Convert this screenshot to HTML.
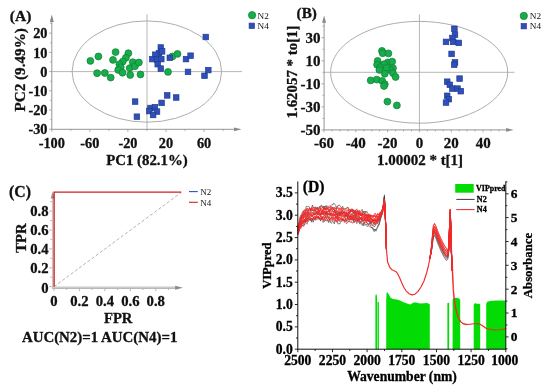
<!DOCTYPE html>
<html><head><meta charset="utf-8"><title>Figure</title>
<style>
html,body{margin:0;padding:0;background:#fff;}
svg{display:block;font-family:"Liberation Serif","DejaVu Serif",serif;}
</style></head><body>
<svg width="550" height="389" viewBox="0 0 550 389">
<rect width="550" height="389" fill="#fff"/>
<text x="9.8" y="21.3" font-size="15.5" font-weight="bold" text-anchor="start" fill="#111" stroke="#111" stroke-width="0.3">(A)</text>
<ellipse cx="146.85" cy="71.55" rx="74.75" ry="50.65" fill="none" stroke="#a4a4a4" stroke-width="0.9"/>
<line x1="51.8" y1="71.6" x2="242" y2="71.6" stroke="#a4a4a4" stroke-width="0.8"/>
<line x1="147" y1="14.3" x2="147" y2="129.3" stroke="#a4a4a4" stroke-width="0.8"/>
<line x1="51.8" y1="129.3" x2="51.8" y2="20.6" stroke="#959595" stroke-width="1.0"/>
<polygon points="49.8,22.0 53.8,22.0 51.8,14.6" fill="#888"/>
<line x1="51.8" y1="129.3" x2="235.5" y2="129.3" stroke="#959595" stroke-width="1.0"/>
<polygon points="234.0,127.4 234.0,131.20000000000002 241.5,129.3" fill="#888"/>
<line x1="49.199999999999996" y1="129.3" x2="51.8" y2="129.3" stroke="#959595" stroke-width="0.8"/>
<line x1="50.199999999999996" y1="119.7" x2="51.8" y2="119.7" stroke="#959595" stroke-width="0.8"/>
<line x1="49.199999999999996" y1="110.1" x2="51.8" y2="110.1" stroke="#959595" stroke-width="0.8"/>
<line x1="50.199999999999996" y1="100.4" x2="51.8" y2="100.4" stroke="#959595" stroke-width="0.8"/>
<line x1="49.199999999999996" y1="90.8" x2="51.8" y2="90.8" stroke="#959595" stroke-width="0.8"/>
<line x1="50.199999999999996" y1="81.2" x2="51.8" y2="81.2" stroke="#959595" stroke-width="0.8"/>
<line x1="49.199999999999996" y1="71.6" x2="51.8" y2="71.6" stroke="#959595" stroke-width="0.8"/>
<line x1="50.199999999999996" y1="62.0" x2="51.8" y2="62.0" stroke="#959595" stroke-width="0.8"/>
<line x1="49.199999999999996" y1="52.4" x2="51.8" y2="52.4" stroke="#959595" stroke-width="0.8"/>
<line x1="50.199999999999996" y1="42.8" x2="51.8" y2="42.8" stroke="#959595" stroke-width="0.8"/>
<line x1="49.199999999999996" y1="33.1" x2="51.8" y2="33.1" stroke="#959595" stroke-width="0.8"/>
<line x1="50.199999999999996" y1="23.5" x2="51.8" y2="23.5" stroke="#959595" stroke-width="0.8"/>
<text x="47.5" y="38.339999999999996" font-size="14.3" font-weight="bold" text-anchor="end" fill="#111" stroke="#111" stroke-width="0.3">20</text>
<text x="47.5" y="57.56999999999999" font-size="14.3" font-weight="bold" text-anchor="end" fill="#111" stroke="#111" stroke-width="0.3">10</text>
<text x="47.5" y="76.8" font-size="14.3" font-weight="bold" text-anchor="end" fill="#111" stroke="#111" stroke-width="0.3">0</text>
<text x="47.5" y="96.03" font-size="14.3" font-weight="bold" text-anchor="end" fill="#111" stroke="#111" stroke-width="0.3">-10</text>
<text x="47.5" y="115.26" font-size="14.3" font-weight="bold" text-anchor="end" fill="#111" stroke="#111" stroke-width="0.3">-20</text>
<text x="47.5" y="134.48999999999998" font-size="14.3" font-weight="bold" text-anchor="end" fill="#111" stroke="#111" stroke-width="0.3">-30</text>
<line x1="51.8" y1="129.3" x2="51.8" y2="131.9" stroke="#959595" stroke-width="0.8"/>
<line x1="70.8" y1="129.3" x2="70.8" y2="130.9" stroke="#959595" stroke-width="0.8"/>
<line x1="89.9" y1="129.3" x2="89.9" y2="131.9" stroke="#959595" stroke-width="0.8"/>
<line x1="108.9" y1="129.3" x2="108.9" y2="130.9" stroke="#959595" stroke-width="0.8"/>
<line x1="127.9" y1="129.3" x2="127.9" y2="131.9" stroke="#959595" stroke-width="0.8"/>
<line x1="146.9" y1="129.3" x2="146.9" y2="130.9" stroke="#959595" stroke-width="0.8"/>
<line x1="166.0" y1="129.3" x2="166.0" y2="131.9" stroke="#959595" stroke-width="0.8"/>
<line x1="185.0" y1="129.3" x2="185.0" y2="130.9" stroke="#959595" stroke-width="0.8"/>
<line x1="204.0" y1="129.3" x2="204.0" y2="131.9" stroke="#959595" stroke-width="0.8"/>
<line x1="223.1" y1="129.3" x2="223.1" y2="130.9" stroke="#959595" stroke-width="0.8"/>
<text x="51.79999999999998" y="147.60000000000002" font-size="14.3" font-weight="bold" text-anchor="middle" fill="#111" stroke="#111" stroke-width="0.3">-100</text>
<text x="89.85999999999999" y="147.60000000000002" font-size="14.3" font-weight="bold" text-anchor="middle" fill="#111" stroke="#111" stroke-width="0.3">-60</text>
<text x="127.91999999999999" y="147.60000000000002" font-size="14.3" font-weight="bold" text-anchor="middle" fill="#111" stroke="#111" stroke-width="0.3">-20</text>
<text x="165.98" y="147.60000000000002" font-size="14.3" font-weight="bold" text-anchor="middle" fill="#111" stroke="#111" stroke-width="0.3">20</text>
<text x="204.04" y="147.60000000000002" font-size="14.3" font-weight="bold" text-anchor="middle" fill="#111" stroke="#111" stroke-width="0.3">60</text>
<text x="146.95" y="165.2" font-size="14.85" font-weight="bold" text-anchor="middle" fill="#111" stroke="#111" stroke-width="0.3">PC1 (82.1%)</text>
<text x="25.2" y="69.85" font-size="15.2" font-weight="bold" text-anchor="middle" fill="#111" stroke="#111" stroke-width="0.3" transform="rotate(-90 25.2 69.85)">PC2 (9.49%)</text>
<circle cx="90.4" cy="60.9" r="3.45" fill="#17ad4b" stroke="#0d7d34" stroke-width="0.7"/>
<circle cx="98.4" cy="56.5" r="3.45" fill="#17ad4b" stroke="#0d7d34" stroke-width="0.7"/>
<circle cx="97.1" cy="73.2" r="3.45" fill="#17ad4b" stroke="#0d7d34" stroke-width="0.7"/>
<circle cx="104.8" cy="73.0" r="3.45" fill="#17ad4b" stroke="#0d7d34" stroke-width="0.7"/>
<circle cx="110.7" cy="77.6" r="3.45" fill="#17ad4b" stroke="#0d7d34" stroke-width="0.7"/>
<circle cx="113.0" cy="59.9" r="3.45" fill="#17ad4b" stroke="#0d7d34" stroke-width="0.7"/>
<circle cx="115.6" cy="52.1" r="3.45" fill="#17ad4b" stroke="#0d7d34" stroke-width="0.7"/>
<circle cx="128.4" cy="53.2" r="3.45" fill="#17ad4b" stroke="#0d7d34" stroke-width="0.7"/>
<circle cx="125.9" cy="57.8" r="3.45" fill="#17ad4b" stroke="#0d7d34" stroke-width="0.7"/>
<circle cx="122.8" cy="61.6" r="3.45" fill="#17ad4b" stroke="#0d7d34" stroke-width="0.7"/>
<circle cx="119.4" cy="64.2" r="3.45" fill="#17ad4b" stroke="#0d7d34" stroke-width="0.7"/>
<circle cx="120.7" cy="67.3" r="3.45" fill="#17ad4b" stroke="#0d7d34" stroke-width="0.7"/>
<circle cx="118.2" cy="69.9" r="3.45" fill="#17ad4b" stroke="#0d7d34" stroke-width="0.7"/>
<circle cx="122.5" cy="72.7" r="3.45" fill="#17ad4b" stroke="#0d7d34" stroke-width="0.7"/>
<circle cx="129.7" cy="68.1" r="3.45" fill="#17ad4b" stroke="#0d7d34" stroke-width="0.7"/>
<circle cx="132.8" cy="62.2" r="3.45" fill="#17ad4b" stroke="#0d7d34" stroke-width="0.7"/>
<circle cx="130.2" cy="75" r="3.45" fill="#17ad4b" stroke="#0d7d34" stroke-width="0.7"/>
<circle cx="134.9" cy="66.3" r="3.45" fill="#17ad4b" stroke="#0d7d34" stroke-width="0.7"/>
<circle cx="138.9" cy="62.5" r="3.45" fill="#17ad4b" stroke="#0d7d34" stroke-width="0.7"/>
<circle cx="140.5" cy="74.5" r="3.45" fill="#17ad4b" stroke="#0d7d34" stroke-width="0.7"/>
<circle cx="168" cy="71.9" r="3.45" fill="#17ad4b" stroke="#0d7d34" stroke-width="0.7"/>
<circle cx="172.4" cy="56.5" r="3.45" fill="#17ad4b" stroke="#0d7d34" stroke-width="0.7"/>
<circle cx="177.5" cy="53.9" r="3.45" fill="#17ad4b" stroke="#0d7d34" stroke-width="0.7"/>
<rect x="203.0" y="34.2" width="5.6" height="5.6" fill="#2d50ba" stroke="#21388c" stroke-width="0.65"/>
<rect x="158.0" y="44.7" width="5.6" height="5.6" fill="#2d50ba" stroke="#21388c" stroke-width="0.65"/>
<rect x="156.2" y="50.4" width="5.6" height="5.6" fill="#2d50ba" stroke="#21388c" stroke-width="0.65"/>
<rect x="152.4" y="51.9" width="5.6" height="5.6" fill="#2d50ba" stroke="#21388c" stroke-width="0.65"/>
<rect x="159.3" y="48.6" width="5.6" height="5.6" fill="#2d50ba" stroke="#21388c" stroke-width="0.65"/>
<rect x="149.5" y="56.3" width="5.6" height="5.6" fill="#2d50ba" stroke="#21388c" stroke-width="0.65"/>
<rect x="154.2" y="56.8" width="5.6" height="5.6" fill="#2d50ba" stroke="#21388c" stroke-width="0.65"/>
<rect x="158.5" y="56.3" width="5.6" height="5.6" fill="#2d50ba" stroke="#21388c" stroke-width="0.65"/>
<rect x="154.9" y="61.4" width="5.6" height="5.6" fill="#2d50ba" stroke="#21388c" stroke-width="0.65"/>
<rect x="158.0" y="65.8" width="5.6" height="5.6" fill="#2d50ba" stroke="#21388c" stroke-width="0.65"/>
<rect x="167.0" y="55.0" width="5.6" height="5.6" fill="#2d50ba" stroke="#21388c" stroke-width="0.65"/>
<rect x="183.2" y="56.3" width="5.6" height="5.6" fill="#2d50ba" stroke="#21388c" stroke-width="0.65"/>
<rect x="187.8" y="52.9" width="5.6" height="5.6" fill="#2d50ba" stroke="#21388c" stroke-width="0.65"/>
<rect x="185.2" y="69.1" width="5.6" height="5.6" fill="#2d50ba" stroke="#21388c" stroke-width="0.65"/>
<rect x="201.7" y="73.0" width="5.6" height="5.6" fill="#2d50ba" stroke="#21388c" stroke-width="0.65"/>
<rect x="205.5" y="67.3" width="5.6" height="5.6" fill="#2d50ba" stroke="#21388c" stroke-width="0.65"/>
<rect x="164.4" y="92.6" width="5.6" height="5.6" fill="#2d50ba" stroke="#21388c" stroke-width="0.65"/>
<rect x="173.4" y="94.7" width="5.6" height="5.6" fill="#2d50ba" stroke="#21388c" stroke-width="0.65"/>
<rect x="158.8" y="100.1" width="5.6" height="5.6" fill="#2d50ba" stroke="#21388c" stroke-width="0.65"/>
<rect x="132.3" y="98.8" width="5.6" height="5.6" fill="#2d50ba" stroke="#21388c" stroke-width="0.65"/>
<rect x="134.1" y="113.9" width="5.6" height="5.6" fill="#2d50ba" stroke="#21388c" stroke-width="0.65"/>
<rect x="147.7" y="105.2" width="5.6" height="5.6" fill="#2d50ba" stroke="#21388c" stroke-width="0.65"/>
<rect x="152.1" y="104.4" width="5.6" height="5.6" fill="#2d50ba" stroke="#21388c" stroke-width="0.65"/>
<rect x="146.5" y="108.3" width="5.6" height="5.6" fill="#2d50ba" stroke="#21388c" stroke-width="0.65"/>
<rect x="154.2" y="108.8" width="5.6" height="5.6" fill="#2d50ba" stroke="#21388c" stroke-width="0.65"/>
<rect x="150.3" y="112.2" width="5.6" height="5.6" fill="#2d50ba" stroke="#21388c" stroke-width="0.65"/>
<circle cx="252.1" cy="15.2" r="3.65" fill="#17ad4b" stroke="#0d7d34" stroke-width="0.7"/>
<rect x="249.1" y="23.1" width="5.4" height="5.4" fill="#2d50ba" stroke="#21388c" stroke-width="0.65"/>
<text x="257.5" y="18.6" font-size="9.2" font-weight="normal" text-anchor="start" fill="#111">N2</text>
<text x="257.5" y="28.9" font-size="9.2" font-weight="normal" text-anchor="start" fill="#111">N4</text>
<text x="296.6" y="18.0" font-size="15.2" font-weight="bold" text-anchor="start" fill="#111" stroke="#111" stroke-width="0.3">(B)</text>
<ellipse cx="419.15" cy="72.3" rx="88.55" ry="50.9" fill="none" stroke="#a4a4a4" stroke-width="0.9"/>
<line x1="324.1" y1="72.3" x2="514.5" y2="72.3" stroke="#a4a4a4" stroke-width="0.8"/>
<line x1="419.45" y1="14.5" x2="419.45" y2="129.9" stroke="#a4a4a4" stroke-width="0.8"/>
<line x1="324.1" y1="129.9" x2="324.1" y2="21.4" stroke="#959595" stroke-width="1.0"/>
<polygon points="322.1,22.8 326.1,22.8 324.1,15.4" fill="#888"/>
<line x1="324.1" y1="129.9" x2="507.6" y2="129.9" stroke="#959595" stroke-width="1.0"/>
<polygon points="506.1,128.0 506.1,131.8 513.6,129.9" fill="#888"/>
<line x1="321.5" y1="129.9" x2="324.1" y2="129.9" stroke="#959595" stroke-width="0.8"/>
<line x1="322.5" y1="118.4" x2="324.1" y2="118.4" stroke="#959595" stroke-width="0.8"/>
<line x1="321.5" y1="106.9" x2="324.1" y2="106.9" stroke="#959595" stroke-width="0.8"/>
<line x1="322.5" y1="95.3" x2="324.1" y2="95.3" stroke="#959595" stroke-width="0.8"/>
<line x1="321.5" y1="83.8" x2="324.1" y2="83.8" stroke="#959595" stroke-width="0.8"/>
<line x1="322.5" y1="72.3" x2="324.1" y2="72.3" stroke="#959595" stroke-width="0.8"/>
<line x1="321.5" y1="60.8" x2="324.1" y2="60.8" stroke="#959595" stroke-width="0.8"/>
<line x1="322.5" y1="49.3" x2="324.1" y2="49.3" stroke="#959595" stroke-width="0.8"/>
<line x1="321.5" y1="37.7" x2="324.1" y2="37.7" stroke="#959595" stroke-width="0.8"/>
<line x1="322.5" y1="26.2" x2="324.1" y2="26.2" stroke="#959595" stroke-width="0.8"/>
<text x="320.40000000000003" y="43.14" font-size="15" font-weight="bold" text-anchor="end" fill="#111" stroke="#111" stroke-width="0.3">30</text>
<text x="320.40000000000003" y="66.18" font-size="15" font-weight="bold" text-anchor="end" fill="#111" stroke="#111" stroke-width="0.3">10</text>
<text x="320.40000000000003" y="89.22" font-size="15" font-weight="bold" text-anchor="end" fill="#111" stroke="#111" stroke-width="0.3">-10</text>
<text x="320.40000000000003" y="112.25999999999999" font-size="15" font-weight="bold" text-anchor="end" fill="#111" stroke="#111" stroke-width="0.3">-30</text>
<text x="320.40000000000003" y="135.29999999999998" font-size="15" font-weight="bold" text-anchor="end" fill="#111" stroke="#111" stroke-width="0.3">-50</text>
<line x1="323.9" y1="129.9" x2="323.9" y2="132.3" stroke="#959595" stroke-width="0.8"/>
<line x1="331.9" y1="129.9" x2="331.9" y2="131.4" stroke="#959595" stroke-width="0.8"/>
<line x1="339.8" y1="129.9" x2="339.8" y2="131.4" stroke="#959595" stroke-width="0.8"/>
<line x1="347.8" y1="129.9" x2="347.8" y2="131.4" stroke="#959595" stroke-width="0.8"/>
<line x1="355.8" y1="129.9" x2="355.8" y2="132.3" stroke="#959595" stroke-width="0.8"/>
<line x1="363.7" y1="129.9" x2="363.7" y2="131.4" stroke="#959595" stroke-width="0.8"/>
<line x1="371.7" y1="129.9" x2="371.7" y2="131.4" stroke="#959595" stroke-width="0.8"/>
<line x1="379.6" y1="129.9" x2="379.6" y2="131.4" stroke="#959595" stroke-width="0.8"/>
<line x1="387.6" y1="129.9" x2="387.6" y2="132.3" stroke="#959595" stroke-width="0.8"/>
<line x1="395.6" y1="129.9" x2="395.6" y2="131.4" stroke="#959595" stroke-width="0.8"/>
<line x1="403.5" y1="129.9" x2="403.5" y2="131.4" stroke="#959595" stroke-width="0.8"/>
<line x1="411.5" y1="129.9" x2="411.5" y2="131.4" stroke="#959595" stroke-width="0.8"/>
<line x1="419.4" y1="129.9" x2="419.4" y2="132.3" stroke="#959595" stroke-width="0.8"/>
<line x1="427.4" y1="129.9" x2="427.4" y2="131.4" stroke="#959595" stroke-width="0.8"/>
<line x1="435.4" y1="129.9" x2="435.4" y2="131.4" stroke="#959595" stroke-width="0.8"/>
<line x1="443.3" y1="129.9" x2="443.3" y2="131.4" stroke="#959595" stroke-width="0.8"/>
<line x1="451.3" y1="129.9" x2="451.3" y2="132.3" stroke="#959595" stroke-width="0.8"/>
<line x1="459.3" y1="129.9" x2="459.3" y2="131.4" stroke="#959595" stroke-width="0.8"/>
<line x1="467.2" y1="129.9" x2="467.2" y2="131.4" stroke="#959595" stroke-width="0.8"/>
<line x1="475.2" y1="129.9" x2="475.2" y2="131.4" stroke="#959595" stroke-width="0.8"/>
<line x1="483.1" y1="129.9" x2="483.1" y2="132.3" stroke="#959595" stroke-width="0.8"/>
<line x1="491.1" y1="129.9" x2="491.1" y2="131.4" stroke="#959595" stroke-width="0.8"/>
<line x1="499.1" y1="129.9" x2="499.1" y2="131.4" stroke="#959595" stroke-width="0.8"/>
<line x1="507.0" y1="129.9" x2="507.0" y2="131.4" stroke="#959595" stroke-width="0.8"/>
<text x="323.9" y="148.1" font-size="15" font-weight="bold" text-anchor="middle" fill="#111" stroke="#111" stroke-width="0.3">-60</text>
<text x="355.75" y="148.1" font-size="15" font-weight="bold" text-anchor="middle" fill="#111" stroke="#111" stroke-width="0.3">-40</text>
<text x="387.59999999999997" y="148.1" font-size="15" font-weight="bold" text-anchor="middle" fill="#111" stroke="#111" stroke-width="0.3">-20</text>
<text x="419.45" y="148.1" font-size="15" font-weight="bold" text-anchor="middle" fill="#111" stroke="#111" stroke-width="0.3">0</text>
<text x="451.3" y="148.1" font-size="15" font-weight="bold" text-anchor="middle" fill="#111" stroke="#111" stroke-width="0.3">20</text>
<text x="483.15" y="148.1" font-size="15" font-weight="bold" text-anchor="middle" fill="#111" stroke="#111" stroke-width="0.3">40</text>
<text x="420" y="165.3" font-size="15" font-weight="bold" text-anchor="middle" fill="#111" stroke="#111" stroke-width="0.3">1.00002 * t[1]</text>
<text x="296.8" y="72" font-size="14.9" font-weight="bold" text-anchor="middle" fill="#111" stroke="#111" stroke-width="0.3" transform="rotate(-90 296.8 72)">1.62057 * to[1]</text>
<circle cx="382" cy="50.9" r="3.45" fill="#17ad4b" stroke="#0d7d34" stroke-width="0.7"/>
<circle cx="382.7" cy="53.2" r="3.45" fill="#17ad4b" stroke="#0d7d34" stroke-width="0.7"/>
<circle cx="388.4" cy="53.4" r="3.45" fill="#17ad4b" stroke="#0d7d34" stroke-width="0.7"/>
<circle cx="377.6" cy="60.9" r="3.45" fill="#17ad4b" stroke="#0d7d34" stroke-width="0.7"/>
<circle cx="377.1" cy="64.7" r="3.45" fill="#17ad4b" stroke="#0d7d34" stroke-width="0.7"/>
<circle cx="387.9" cy="62.4" r="3.45" fill="#17ad4b" stroke="#0d7d34" stroke-width="0.7"/>
<circle cx="392.2" cy="61.6" r="3.45" fill="#17ad4b" stroke="#0d7d34" stroke-width="0.7"/>
<circle cx="384" cy="64.2" r="3.45" fill="#17ad4b" stroke="#0d7d34" stroke-width="0.7"/>
<circle cx="380.2" cy="67.3" r="3.45" fill="#17ad4b" stroke="#0d7d34" stroke-width="0.7"/>
<circle cx="393" cy="68.1" r="3.45" fill="#17ad4b" stroke="#0d7d34" stroke-width="0.7"/>
<circle cx="390.4" cy="69.9" r="3.45" fill="#17ad4b" stroke="#0d7d34" stroke-width="0.7"/>
<circle cx="379.4" cy="69.9" r="3.45" fill="#17ad4b" stroke="#0d7d34" stroke-width="0.7"/>
<circle cx="386.6" cy="68" r="3.45" fill="#17ad4b" stroke="#0d7d34" stroke-width="0.7"/>
<circle cx="384.8" cy="73.7" r="3.45" fill="#17ad4b" stroke="#0d7d34" stroke-width="0.7"/>
<circle cx="393" cy="73.2" r="3.45" fill="#17ad4b" stroke="#0d7d34" stroke-width="0.7"/>
<circle cx="395.6" cy="77" r="3.45" fill="#17ad4b" stroke="#0d7d34" stroke-width="0.7"/>
<circle cx="370.7" cy="80.4" r="3.45" fill="#17ad4b" stroke="#0d7d34" stroke-width="0.7"/>
<circle cx="376.8" cy="79.6" r="3.45" fill="#17ad4b" stroke="#0d7d34" stroke-width="0.7"/>
<circle cx="382.2" cy="80.9" r="3.45" fill="#17ad4b" stroke="#0d7d34" stroke-width="0.7"/>
<circle cx="384.8" cy="84.2" r="3.45" fill="#17ad4b" stroke="#0d7d34" stroke-width="0.7"/>
<circle cx="384" cy="86" r="3.45" fill="#17ad4b" stroke="#0d7d34" stroke-width="0.7"/>
<circle cx="387.4" cy="101.6" r="3.45" fill="#17ad4b" stroke="#0d7d34" stroke-width="0.7"/>
<circle cx="396.9" cy="105.4" r="3.45" fill="#17ad4b" stroke="#0d7d34" stroke-width="0.7"/>
<rect x="451.6" y="26.0" width="5.6" height="5.6" fill="#2d50ba" stroke="#21388c" stroke-width="0.65"/>
<rect x="452.2" y="31.9" width="5.6" height="5.6" fill="#2d50ba" stroke="#21388c" stroke-width="0.65"/>
<rect x="449.6" y="35.2" width="5.6" height="5.6" fill="#2d50ba" stroke="#21388c" stroke-width="0.65"/>
<rect x="443.2" y="39.1" width="5.6" height="5.6" fill="#2d50ba" stroke="#21388c" stroke-width="0.65"/>
<rect x="450.4" y="39.1" width="5.6" height="5.6" fill="#2d50ba" stroke="#21388c" stroke-width="0.65"/>
<rect x="456.0" y="40.1" width="5.6" height="5.6" fill="#2d50ba" stroke="#21388c" stroke-width="0.65"/>
<rect x="448.8" y="51.1" width="5.6" height="5.6" fill="#2d50ba" stroke="#21388c" stroke-width="0.65"/>
<rect x="452.2" y="59.6" width="5.6" height="5.6" fill="#2d50ba" stroke="#21388c" stroke-width="0.65"/>
<rect x="451.4" y="61.9" width="5.6" height="5.6" fill="#2d50ba" stroke="#21388c" stroke-width="0.65"/>
<rect x="456.8" y="75.8" width="5.6" height="5.6" fill="#2d50ba" stroke="#21388c" stroke-width="0.65"/>
<rect x="444.4" y="78.9" width="5.6" height="5.6" fill="#2d50ba" stroke="#21388c" stroke-width="0.65"/>
<rect x="447.0" y="82.0" width="5.6" height="5.6" fill="#2d50ba" stroke="#21388c" stroke-width="0.65"/>
<rect x="449.6" y="85.8" width="5.6" height="5.6" fill="#2d50ba" stroke="#21388c" stroke-width="0.65"/>
<rect x="454.7" y="85.8" width="5.6" height="5.6" fill="#2d50ba" stroke="#21388c" stroke-width="0.65"/>
<rect x="458.0" y="88.4" width="5.6" height="5.6" fill="#2d50ba" stroke="#21388c" stroke-width="0.65"/>
<rect x="444.4" y="93.0" width="5.6" height="5.6" fill="#2d50ba" stroke="#21388c" stroke-width="0.65"/>
<rect x="446.0" y="96.4" width="5.6" height="5.6" fill="#2d50ba" stroke="#21388c" stroke-width="0.65"/>
<rect x="443.2" y="99.8" width="5.6" height="5.6" fill="#2d50ba" stroke="#21388c" stroke-width="0.65"/>
<circle cx="523.8" cy="15.9" r="3.65" fill="#17ad4b" stroke="#0d7d34" stroke-width="0.7"/>
<rect x="521.1" y="23.5" width="5.4" height="5.4" fill="#2d50ba" stroke="#21388c" stroke-width="0.65"/>
<text x="529.8" y="19.1" font-size="9.2" font-weight="normal" text-anchor="start" fill="#111">N2</text>
<text x="529.8" y="29.4" font-size="9.2" font-weight="normal" text-anchor="start" fill="#111">N4</text>
<text x="9.0" y="196.5" font-size="15.8" font-weight="bold" text-anchor="start" fill="#111" stroke="#111" stroke-width="0.3">(C)</text>
<line x1="52.7" y1="288.5" x2="52.7" y2="197" stroke="#c3c7cb" stroke-width="1.5"/>
<polygon points="50.7,198.6 54.7,198.6 52.7,191.4" fill="#8e8e8e"/>
<line x1="52" y1="287.65" x2="176" y2="287.65" stroke="#c9c9c9" stroke-width="2.5"/>
<line x1="52" y1="288.5" x2="176" y2="288.5" stroke="#b4b4b4" stroke-width="0.8"/>
<polygon points="175.2,285.8 175.2,289.8 183,287.8" fill="#8a8a8a"/>
<line x1="49.2" y1="286.7" x2="52" y2="286.7" stroke="#a5a5a5" stroke-width="0.8"/>
<line x1="54.0" y1="288.8" x2="54.0" y2="291.2" stroke="#a5a5a5" stroke-width="0.8"/>
<line x1="50.4" y1="277.2" x2="52" y2="277.2" stroke="#a5a5a5" stroke-width="0.8"/>
<line x1="66.7" y1="288.8" x2="66.7" y2="290.0" stroke="#a5a5a5" stroke-width="0.8"/>
<line x1="49.2" y1="267.8" x2="52" y2="267.8" stroke="#a5a5a5" stroke-width="0.8"/>
<line x1="79.4" y1="288.8" x2="79.4" y2="291.2" stroke="#a5a5a5" stroke-width="0.8"/>
<line x1="50.4" y1="258.3" x2="52" y2="258.3" stroke="#a5a5a5" stroke-width="0.8"/>
<line x1="92.2" y1="288.8" x2="92.2" y2="290.0" stroke="#a5a5a5" stroke-width="0.8"/>
<line x1="49.2" y1="248.9" x2="52" y2="248.9" stroke="#a5a5a5" stroke-width="0.8"/>
<line x1="104.9" y1="288.8" x2="104.9" y2="291.2" stroke="#a5a5a5" stroke-width="0.8"/>
<line x1="50.4" y1="239.4" x2="52" y2="239.4" stroke="#a5a5a5" stroke-width="0.8"/>
<line x1="117.6" y1="288.8" x2="117.6" y2="290.0" stroke="#a5a5a5" stroke-width="0.8"/>
<line x1="49.2" y1="230.0" x2="52" y2="230.0" stroke="#a5a5a5" stroke-width="0.8"/>
<line x1="130.3" y1="288.8" x2="130.3" y2="291.2" stroke="#a5a5a5" stroke-width="0.8"/>
<line x1="50.4" y1="220.5" x2="52" y2="220.5" stroke="#a5a5a5" stroke-width="0.8"/>
<line x1="143.0" y1="288.8" x2="143.0" y2="290.0" stroke="#a5a5a5" stroke-width="0.8"/>
<line x1="49.2" y1="211.1" x2="52" y2="211.1" stroke="#a5a5a5" stroke-width="0.8"/>
<line x1="155.8" y1="288.8" x2="155.8" y2="291.2" stroke="#a5a5a5" stroke-width="0.8"/>
<line x1="50.4" y1="201.6" x2="52" y2="201.6" stroke="#a5a5a5" stroke-width="0.8"/>
<line x1="168.5" y1="288.8" x2="168.5" y2="290.0" stroke="#a5a5a5" stroke-width="0.8"/>
<text x="48.6" y="216.46" font-size="14.7" font-weight="bold" text-anchor="end" fill="#111" stroke="#111" stroke-width="0.3">0.8</text>
<text x="155.76" y="306.1" font-size="14.7" font-weight="bold" text-anchor="middle" fill="#111" stroke="#111" stroke-width="0.3">0.8</text>
<text x="48.6" y="235.37" font-size="14.7" font-weight="bold" text-anchor="end" fill="#111" stroke="#111" stroke-width="0.3">0.6</text>
<text x="130.32" y="306.1" font-size="14.7" font-weight="bold" text-anchor="middle" fill="#111" stroke="#111" stroke-width="0.3">0.6</text>
<text x="48.6" y="254.28" font-size="14.7" font-weight="bold" text-anchor="end" fill="#111" stroke="#111" stroke-width="0.3">0.4</text>
<text x="104.88" y="306.1" font-size="14.7" font-weight="bold" text-anchor="middle" fill="#111" stroke="#111" stroke-width="0.3">0.4</text>
<text x="48.6" y="273.18999999999994" font-size="14.7" font-weight="bold" text-anchor="end" fill="#111" stroke="#111" stroke-width="0.3">0.2</text>
<text x="79.44" y="306.1" font-size="14.7" font-weight="bold" text-anchor="middle" fill="#111" stroke="#111" stroke-width="0.3">0.2</text>
<text x="48.6" y="292.8" font-size="14.7" font-weight="bold" text-anchor="end" fill="#111" stroke="#111" stroke-width="0.3">0</text>
<text x="54.0" y="306.1" font-size="14.7" font-weight="bold" text-anchor="middle" fill="#111" stroke="#111" stroke-width="0.3">0</text>
<line x1="54" y1="286.7" x2="181.5" y2="192.3" stroke="#aaa" stroke-width="0.9" stroke-dasharray="3.2 2"/>
<polyline points="54.1,286.8 54.1,192.1 181.2,192.1" fill="none" stroke="#d41e1e" stroke-width="1.35"/>
<line x1="189" y1="191.6" x2="197.8" y2="191.6" stroke="#3050c0" stroke-width="1.1"/>
<line x1="189" y1="202.3" x2="197.8" y2="202.3" stroke="#d62020" stroke-width="1.1"/>
<text x="200.3" y="194.9" font-size="9" font-weight="normal" text-anchor="start" fill="#111">N2</text>
<text x="200.3" y="205.6" font-size="9" font-weight="normal" text-anchor="start" fill="#111">N4</text>
<text x="118.2" y="323.4" font-size="14.7" font-weight="bold" text-anchor="middle" fill="#111" stroke="#111" stroke-width="0.3">FPR</text>
<text x="21.9" y="341.8" font-size="14.9" font-weight="bold" text-anchor="start" fill="#111" stroke="#111" stroke-width="0.3">AUC(N2)=1 AUC(N4)=1</text>
<text x="26.3" y="238" font-size="14.7" font-weight="bold" text-anchor="middle" fill="#111" stroke="#111" stroke-width="0.3" transform="rotate(-90 26.3 238)">TPR</text>
<path d="M375.4,349.2 L375.4,296.0 L375.9,294.2 L376.6,294.6 L377.0,297.0 L377.0,349.2 Z" fill="#02dc04"/>
<path d="M377.5,349.2 L377.5,302.5 L378.2,301.4 L378.9,302.5 L378.9,349.2 Z" fill="#02dc04"/>
<path d="M386.2,349.2 L386.2,300.0 L386.6,293.0 L387.5,292.2 L388.6,294.0 L390.6,297.8 L393.0,299.0 L397.0,299.6 L400.0,300.6 L403.0,302.0 L407.0,303.5 L410.0,304.4 L412.0,303.6 L413.5,302.4 L416.0,302.6 L420.0,303.4 L424.0,303.2 L426.5,303.0 L428.5,303.6 L429.8,304.6 L429.8,349.2 Z" fill="#02dc04"/>
<path d="M447.4,349.2 L447.4,303.2 L448.2,302.4 L449.1,303.2 L449.1,349.2 Z" fill="#02dc04"/>
<path d="M452.6,349.2 L452.6,300.0 L453.2,298.2 L456.0,297.8 L459.3,298.4 L460.2,300.0 L460.2,349.2 Z" fill="#02dc04"/>
<path d="M473.7,349.2 L473.7,305.0 L474.5,303.6 L476.0,303.2 L477.5,304.0 L479.0,303.4 L480.2,304.6 L480.2,349.2 Z" fill="#02dc04"/>
<path d="M486.2,349.2 L486.2,304.0 L487.2,301.8 L490.0,301.0 L496.0,300.6 L502.0,300.4 L505.8,300.6 L505.8,349.2 Z" fill="#02dc04"/>
<path d="M298.0,228.1 L298.6,224.1 L299.3,219.8 L300.1,216.6 L300.9,215.2 L301.6,216.9 L302.5,214.9 L303.1,212.0 L303.8,210.5 L304.8,210.0 L305.7,208.9 L306.3,206.2 L307.3,206.6 L308.2,206.5 L309.2,206.7 L310.1,209.3 L311.0,209.1 L311.7,207.9 L312.4,205.0 L313.3,208.0 L314.3,208.0 L315.2,207.2 L316.3,208.4 L317.2,208.1 L318.1,209.8 L318.9,208.6 L319.5,206.3 L320.1,207.7 L320.8,205.7 L321.8,205.2 L322.7,208.1 L323.7,206.0 L324.5,209.5 L325.2,205.7 L325.9,207.3 L326.6,205.6 L327.4,208.3 L328.4,207.2 L329.3,207.5 L330.3,208.4 L331.1,205.4 L332.0,204.4 L332.7,205.0 L333.3,203.5 L334.0,203.2 L335.0,204.5 L335.7,205.5 L336.4,209.4 L337.2,205.8 L337.9,206.3 L338.9,204.8 L340.0,205.8 L340.9,206.5 L341.9,208.6 L342.7,206.3 L343.7,209.3 L344.4,208.9 L345.5,210.1 L346.5,208.4 L347.4,207.2 L348.0,207.7 L348.9,209.8 L350.0,213.1 L350.8,209.2 L351.5,210.2 L352.5,210.6 L353.5,209.7 L354.4,213.5 L355.4,210.7 L356.4,213.0 L357.5,211.2 L358.5,210.8 L359.2,213.2 L360.2,212.4 L361.3,211.1 L362.2,209.3 L363.2,212.2 L364.3,213.8 L365.3,211.1 L366.1,212.5 L366.8,211.3 L367.9,213.5 L368.8,214.8 L369.8,216.0 L370.7,215.2 L371.4,216.4 L372.0,216.6 L372.9,216.0 L373.8,215.2 L374.7,215.8 L375.7,216.8 L376.7,216.6 L377.6,216.7 L378.5,216.5 L379.3,217.0 L380.4,213.8 L381.3,214.9 L381.9,211.8 L382.6,207.5 L383.5,207.2 L384.2,200.3 L384.4,194.8 L385.3,215.0 L386.5,250.0" fill="none" stroke="#3a3a3a" stroke-width="0.6" stroke-linejoin="round" stroke-linecap="round"/>
<path d="M430.0,258.0 L431.5,249.0 L432.5,239.6 L433.4,232.2 L434.5,230.2 L436.0,233.2 L438.0,238.7 L441.0,245.7 L444.0,251.7 L446.5,255.2 L447.8,255.5 L448.8,248.9 L449.6,225.0 L450.2,211.3 L450.8,225.0 L451.3,250.0 L452.3,270.6" fill="none" stroke="#3a3a3a" stroke-width="0.432" stroke-linejoin="round" stroke-linecap="round"/>
<path d="M298.0,228.5 L299.1,224.8 L300.2,220.4 L301.0,219.0 L301.7,218.4 L302.3,216.0 L302.9,215.6 L303.8,215.2 L304.8,211.9 L305.5,212.9 L306.2,210.1 L307.3,210.2 L308.0,212.4 L308.9,208.8 L309.8,208.5 L310.9,211.7 L311.6,209.3 L312.6,210.1 L313.5,210.7 L314.1,210.3 L314.8,208.5 L315.5,209.0 L316.5,209.3 L317.2,207.0 L317.9,209.0 L318.8,207.5 L319.8,208.4 L320.6,209.0 L321.4,208.8 L322.5,209.4 L323.5,208.4 L324.3,206.4 L324.9,207.9 L325.6,209.6 L326.6,208.1 L327.3,208.6 L328.0,207.9 L329.1,210.5 L329.8,210.6 L330.6,209.6 L331.4,208.9 L332.3,208.0 L332.9,207.1 L333.5,207.7 L334.4,210.3 L335.4,211.6 L336.1,211.8 L336.8,211.2 L337.4,213.1 L338.4,213.3 L339.0,211.9 L340.0,213.9 L340.9,214.1 L341.9,210.4 L342.6,210.2 L343.6,212.5 L344.5,212.4 L345.1,214.1 L345.9,213.6 L346.6,212.3 L347.2,213.5 L347.9,215.0 L348.8,212.5 L349.7,213.7 L350.6,210.6 L351.3,212.0 L352.2,209.8 L353.0,213.1 L353.9,212.1 L354.7,210.6 L355.8,213.9 L356.8,211.1 L357.9,212.6 L358.6,214.4 L359.3,211.5 L360.2,212.7 L361.2,216.0 L362.1,215.6 L363.0,211.2 L363.8,212.8 L364.5,212.9 L365.5,214.3 L366.5,215.3 L367.5,214.6 L368.3,218.3 L369.2,216.6 L369.9,215.2 L370.9,219.2 L371.6,217.7 L372.3,220.0 L373.4,219.8 L374.4,220.6 L375.4,220.4 L376.2,220.0 L377.0,220.1 L377.6,217.5 L378.4,220.2 L379.1,217.0 L380.0,214.7 L380.7,216.4 L381.5,214.6 L382.6,207.8 L383.3,205.6 L384.0,200.6 L384.4,197.0 L385.3,215.0 L386.5,250.0" fill="none" stroke="#3a3a3a" stroke-width="0.6" stroke-linejoin="round" stroke-linecap="round"/>
<path d="M430.0,258.0 L431.5,249.1 L432.5,239.9 L433.4,232.6 L434.5,230.6 L436.0,233.6 L438.0,239.1 L441.0,246.1 L444.0,252.1 L446.5,255.6 L447.8,255.8 L448.8,249.0 L449.6,225.0 L450.2,211.9 L450.8,225.0 L451.3,250.0 L452.3,270.6" fill="none" stroke="#3a3a3a" stroke-width="0.432" stroke-linejoin="round" stroke-linecap="round"/>
<path d="M298.0,230.3 L298.8,226.9 L299.6,222.7 L300.7,220.5 L301.6,218.0 L302.3,216.9 L303.1,219.1 L304.2,213.5 L305.1,215.6 L306.0,213.2 L307.1,215.8 L308.2,211.7 L308.8,214.1 L309.9,214.2 L310.9,213.4 L311.5,212.5 L312.6,212.9 L313.2,213.5 L314.2,210.1 L315.1,211.7 L315.8,210.4 L316.5,214.3 L317.4,213.2 L318.2,214.4 L319.1,210.0 L320.0,212.1 L320.7,214.7 L321.4,211.0 L322.2,211.0 L323.2,213.0 L323.9,213.2 L324.9,212.0 L325.9,214.5 L326.7,210.7 L327.6,214.3 L328.2,211.1 L329.3,209.7 L329.9,213.2 L331.0,214.5 L332.1,210.8 L333.1,210.9 L334.1,212.1 L334.8,209.8 L335.6,213.7 L336.2,212.0 L337.0,215.4 L337.8,212.8 L338.6,212.8 L339.4,213.0 L340.2,216.6 L340.8,212.3 L341.9,214.6 L342.9,212.3 L344.0,212.8 L345.0,212.5 L345.6,216.0 L346.5,213.3 L347.2,217.1 L348.3,213.8 L349.1,216.6 L349.8,216.5 L350.8,216.5 L351.6,214.9 L352.5,213.2 L353.5,212.3 L354.1,213.7 L355.2,217.6 L356.0,213.0 L356.8,215.1 L357.5,215.8 L358.5,217.5 L359.4,216.8 L360.1,215.1 L361.1,214.2 L361.8,216.5 L362.7,214.5 L363.8,214.3 L364.8,218.1 L365.5,217.6 L366.5,215.8 L367.2,216.5 L368.3,221.0 L369.1,220.3 L369.8,223.4 L370.5,222.6 L371.2,220.7 L371.9,222.5 L372.8,219.9 L373.6,221.3 L374.4,223.6 L375.2,220.0 L376.0,222.0 L376.7,221.4 L377.5,219.2 L378.6,219.4 L379.3,219.8 L380.4,214.7 L381.4,211.8 L382.4,211.8 L383.2,206.7 L383.9,202.2 L384.4,197.0 L385.3,215.0 L386.5,250.0" fill="none" stroke="#3a3a3a" stroke-width="0.6" stroke-linejoin="round" stroke-linecap="round"/>
<path d="M430.0,258.0 L431.5,250.2 L432.5,241.7 L433.4,235.0 L434.5,233.0 L436.0,236.0 L438.0,241.5 L441.0,248.5 L444.0,254.5 L446.5,258.0 L447.8,257.4 L448.8,250.0 L449.6,225.0 L450.2,215.5 L450.8,225.0 L451.3,250.0 L452.3,270.6" fill="none" stroke="#3a3a3a" stroke-width="0.432" stroke-linejoin="round" stroke-linecap="round"/>
<path d="M298.0,231.7 L298.8,226.7 L299.5,227.2 L300.2,225.3 L301.3,219.7 L302.3,220.5 L303.0,220.6 L304.0,221.6 L304.7,218.9 L305.5,221.2 L306.2,217.8 L307.0,215.9 L307.8,219.3 L308.4,218.5 L309.0,216.3 L309.9,217.9 L310.7,217.1 L311.5,216.5 L312.3,215.6 L313.1,215.6 L314.1,213.1 L315.0,212.1 L315.8,212.6 L316.6,212.7 L317.3,214.4 L318.1,212.4 L318.9,212.4 L320.0,216.2 L321.0,216.5 L321.8,217.4 L322.5,218.1 L323.1,216.8 L323.8,215.6 L324.8,215.5 L325.9,213.8 L326.7,212.5 L327.4,215.6 L328.4,213.6 L329.3,214.3 L330.3,215.6 L331.1,216.1 L331.8,216.4 L332.6,215.5 L333.7,216.0 L334.7,214.9 L335.6,216.5 L336.4,217.6 L337.3,215.3 L337.9,213.5 L338.8,215.1 L339.8,213.3 L340.7,211.6 L341.5,212.6 L342.2,214.4 L342.9,214.7 L343.6,215.1 L344.3,215.9 L345.3,215.9 L346.0,215.8 L346.9,215.8 L347.7,217.6 L348.5,215.8 L349.3,216.3 L350.0,216.0 L350.8,217.4 L351.5,218.9 L352.5,218.0 L353.2,216.6 L354.3,219.9 L354.9,220.5 L355.7,219.5 L356.4,217.4 L357.0,219.1 L358.0,219.7 L358.7,218.5 L359.7,217.8 L360.6,218.5 L361.7,217.5 L362.4,220.9 L363.4,220.2 L364.1,219.9 L365.0,219.4 L366.1,220.4 L367.1,220.4 L368.0,221.0 L368.7,220.9 L369.8,221.0 L370.5,223.7 L371.1,222.0 L372.1,225.6 L373.0,224.9 L373.8,226.8 L374.9,226.5 L375.9,223.5 L376.6,222.0 L377.6,224.0 L378.7,221.4 L379.3,221.6 L380.0,218.4 L380.6,216.1 L381.6,213.8 L382.7,211.4 L383.6,204.9 L384.4,197.1 L385.3,215.0 L386.5,250.0" fill="none" stroke="#3a3a3a" stroke-width="0.6" stroke-linejoin="round" stroke-linecap="round"/>
<path d="M430.0,258.0 L431.5,250.4 L432.5,242.0 L433.4,235.4 L434.5,233.4 L436.0,236.4 L438.0,241.9 L441.0,248.9 L444.0,254.9 L446.5,258.4 L447.8,257.7 L448.8,250.2 L449.6,225.0 L450.2,216.1 L450.8,225.0 L451.3,250.0 L452.3,270.6" fill="none" stroke="#3a3a3a" stroke-width="0.432" stroke-linejoin="round" stroke-linecap="round"/>
<path d="M298.0,233.6 L298.9,230.7 L299.5,226.0 L300.1,226.9 L301.2,222.9 L302.0,220.9 L302.9,222.8 L303.6,221.1 L304.3,221.8 L305.0,219.7 L306.0,222.0 L306.9,219.6 L307.7,218.8 L308.7,217.6 L309.5,219.6 L310.3,219.0 L311.1,220.7 L312.1,218.8 L312.8,219.7 L313.8,217.3 L314.6,219.5 L315.2,220.4 L316.0,216.9 L316.9,217.1 L317.6,217.0 L318.5,216.1 L319.1,219.0 L319.8,217.3 L320.6,221.1 L321.6,218.1 L322.5,216.9 L323.3,216.5 L324.3,217.5 L325.2,216.0 L326.1,218.3 L327.1,217.6 L328.1,216.0 L329.1,219.4 L330.0,219.8 L330.9,217.9 L331.9,217.3 L332.9,218.8 L333.6,217.8 L334.5,218.6 L335.6,217.8 L336.5,217.1 L337.6,216.5 L338.3,219.3 L339.2,217.0 L340.0,217.7 L341.0,218.8 L341.8,218.6 L342.7,220.5 L343.4,219.9 L344.0,219.3 L344.6,219.1 L345.6,218.1 L346.3,221.6 L347.1,220.3 L347.9,216.9 L348.9,220.0 L349.7,218.5 L350.8,219.9 L351.8,220.0 L352.6,218.6 L353.6,221.3 L354.3,218.5 L355.1,216.8 L356.1,217.6 L356.9,218.6 L357.8,218.9 L358.8,218.5 L359.9,222.4 L360.5,222.2 L361.1,222.4 L362.1,218.3 L362.7,220.7 L363.5,220.8 L364.5,220.5 L365.4,220.5 L366.5,222.5 L367.2,222.5 L368.1,225.0 L369.0,223.0 L369.7,223.1 L370.5,225.2 L371.4,227.7 L372.0,227.2 L372.8,229.5 L373.6,230.1 L374.3,229.2 L374.9,229.6 L375.9,229.8 L376.8,228.5 L377.4,226.8 L378.2,224.9 L379.0,225.1 L379.7,221.3 L380.6,218.3 L381.6,215.9 L382.4,214.5 L383.3,206.8 L384.0,201.9 L384.4,196.6 L385.3,215.0 L386.5,250.0" fill="none" stroke="#3a3a3a" stroke-width="0.6" stroke-linejoin="round" stroke-linecap="round"/>
<path d="M430.0,258.0 L431.5,251.2 L432.5,243.3 L433.4,237.2 L434.5,235.2 L436.0,238.2 L438.0,243.7 L441.0,250.7 L444.0,256.7 L446.5,260.2 L447.8,258.9 L448.8,250.9 L449.6,225.0 L450.2,218.8 L450.8,225.0 L451.3,250.0 L452.3,270.6" fill="none" stroke="#3a3a3a" stroke-width="0.432" stroke-linejoin="round" stroke-linecap="round"/>
<path d="M298.0,234.5 L299.0,228.3 L299.8,226.1 L300.9,226.7 L301.8,225.8 L302.8,226.0 L303.7,223.7 L304.6,224.9 L305.2,220.5 L306.2,223.3 L307.0,224.3 L307.9,221.2 L308.7,221.0 L309.6,220.2 L310.5,218.9 L311.5,222.2 L312.3,218.6 L313.2,222.3 L314.1,218.4 L315.0,217.9 L315.6,219.0 L316.3,218.0 L317.3,216.8 L318.3,219.3 L318.9,218.7 L319.9,219.7 L320.5,220.2 L321.4,219.5 L322.5,218.9 L323.1,222.5 L323.7,221.5 L324.4,221.3 L325.0,221.1 L325.8,219.7 L326.8,221.3 L327.8,219.9 L328.7,222.7 L329.6,219.0 L330.7,222.6 L331.5,223.4 L332.5,220.7 L333.3,221.7 L334.3,223.9 L335.3,219.3 L336.0,221.5 L337.0,220.2 L338.0,224.2 L338.9,223.4 L339.9,224.0 L340.7,221.3 L341.7,221.5 L342.7,220.5 L343.7,219.1 L344.4,222.4 L345.2,221.6 L346.2,220.3 L347.3,221.4 L348.1,220.4 L348.8,221.9 L349.6,221.0 L350.4,218.8 L351.5,219.0 L352.5,220.1 L353.4,221.4 L354.0,222.4 L355.0,220.9 L355.7,221.2 L356.8,223.6 L357.9,219.8 L358.6,219.4 L359.2,223.0 L360.0,224.2 L360.7,222.2 L361.3,222.5 L362.2,225.5 L363.2,222.9 L363.8,225.9 L364.5,221.7 L365.3,225.1 L366.3,224.2 L367.3,226.6 L367.9,225.9 L369.0,225.8 L369.9,226.6 L370.6,227.0 L371.5,227.7 L372.2,227.7 L373.1,227.9 L374.2,231.7 L375.2,229.1 L376.0,231.2 L377.1,228.2 L377.8,227.5 L378.7,224.2 L379.4,224.2 L380.0,221.2 L380.9,218.1 L381.9,214.1 L382.7,212.3 L383.4,205.3 L384.4,196.6 L385.3,215.0 L386.5,250.0" fill="none" stroke="#3a3a3a" stroke-width="0.6" stroke-linejoin="round" stroke-linecap="round"/>
<path d="M430.0,258.0 L431.5,251.4 L432.5,243.6 L433.4,237.6 L434.5,235.6 L436.0,238.6 L438.0,244.1 L441.0,251.1 L444.0,257.1 L446.5,260.6 L447.8,259.2 L448.8,251.0 L449.6,225.0 L450.2,219.4 L450.8,225.0 L451.3,250.0 L452.3,270.6" fill="none" stroke="#3a3a3a" stroke-width="0.432" stroke-linejoin="round" stroke-linecap="round"/>
<path d="M298.0,227.7 L298.7,223.2 L299.5,222.7 L300.6,217.0 L301.6,214.5 L302.4,212.1 L303.4,210.8 L304.0,212.3 L304.7,212.5 L305.4,209.8 L306.1,211.4 L306.8,208.3 L307.7,208.6 L308.4,209.9 L309.4,208.4 L310.0,209.3 L311.0,208.9 L311.8,209.8 L312.6,208.5 L313.4,207.7 L314.1,208.7 L314.8,208.8 L315.4,208.3 L316.3,208.1 L317.3,207.9 L318.2,208.7 L318.9,210.1 L319.7,208.7 L320.6,208.7 L321.3,205.6 L322.0,206.4 L322.7,207.4 L323.3,208.7 L324.1,207.8 L325.2,208.0 L325.8,209.1 L326.6,207.7 L327.2,209.3 L327.9,209.1 L328.6,210.4 L329.4,209.8 L330.3,209.7 L331.2,207.4 L332.0,209.3 L333.0,210.0 L334.0,208.0 L335.1,208.4 L335.9,209.0 L336.8,208.1 L337.6,206.2 L338.7,209.5 L339.6,210.3 L340.7,208.5 L341.4,208.1 L342.3,210.3 L343.0,209.7 L344.1,208.8 L345.0,208.8 L346.1,208.2 L346.9,208.1 L347.6,207.8 L348.4,207.5 L349.0,209.6 L349.9,209.5 L350.6,209.8 L351.5,210.3 L352.3,209.1 L353.1,210.1 L353.7,210.8 L354.5,210.2 L355.2,211.0 L356.2,209.7 L357.2,209.9 L358.0,211.9 L358.7,212.2 L359.6,210.1 L360.4,211.7 L361.4,212.5 L362.4,213.8 L363.2,214.3 L364.3,214.2 L364.9,214.0 L365.8,214.9 L366.6,216.3 L367.5,214.9 L368.3,214.9 L369.1,215.3 L369.9,217.0 L370.7,215.0 L371.5,215.4 L372.3,215.8 L373.1,216.3 L374.2,214.8 L375.2,213.0 L376.1,215.2 L377.1,215.5 L378.0,214.8 L378.8,214.5 L379.5,214.7 L380.4,212.5 L381.2,212.3 L382.2,210.5 L383.1,208.7 L383.8,203.6 L384.4,202.3 L385.3,215.0 L386.5,250.0" fill="none" stroke="#f42828" stroke-width="0.75" stroke-linejoin="round" stroke-linecap="round"/>
<path d="M430.0,258.0 L431.5,246.0 L432.5,234.6 L433.4,225.4 L434.5,223.4 L436.0,226.4 L438.0,231.9 L441.0,238.9 L444.0,244.9 L446.5,248.4 L447.8,250.9 L448.8,246.2 L449.6,225.0 L450.2,214.9 L450.8,225.0 L451.3,250.0 L452.3,270.6" fill="none" stroke="#f42828" stroke-width="0.54" stroke-linejoin="round" stroke-linecap="round"/>
<path d="M298.0,230.0 L298.9,225.8 L299.8,222.9 L300.8,217.6 L301.6,216.5 L302.3,214.6 L303.2,214.2 L304.1,210.7 L305.1,210.4 L305.7,210.1 L306.6,208.6 L307.4,208.9 L308.4,210.9 L309.3,208.1 L309.9,208.6 L310.6,208.8 L311.6,209.7 L312.2,208.4 L313.0,207.9 L313.7,206.8 L314.7,207.8 L315.5,206.8 L316.6,209.6 L317.4,208.0 L318.0,210.7 L318.8,211.3 L319.5,211.6 L320.4,210.4 L321.2,210.5 L321.9,211.7 L322.9,209.7 L323.7,210.9 L324.5,208.5 L325.3,209.0 L326.0,209.2 L326.7,207.0 L327.5,206.1 L328.4,206.4 L329.4,206.1 L330.4,206.1 L331.4,206.6 L332.2,208.1 L333.3,209.2 L334.1,207.4 L334.8,207.7 L335.8,208.4 L336.5,208.4 L337.6,208.5 L338.5,209.0 L339.2,209.1 L340.0,207.7 L340.7,209.4 L341.6,209.3 L342.4,208.7 L343.0,208.3 L343.7,209.2 L344.5,211.7 L345.5,210.8 L346.3,211.0 L347.2,210.0 L348.1,210.1 L349.2,210.9 L349.9,210.9 L350.8,209.3 L351.4,209.1 L352.2,208.7 L352.9,209.8 L354.0,211.8 L354.7,211.7 L355.5,211.3 L356.5,209.1 L357.5,209.9 L358.2,211.6 L358.9,212.8 L359.6,212.4 L360.5,212.9 L361.2,214.2 L362.2,215.4 L363.3,214.8 L363.9,215.0 L364.7,214.8 L365.7,215.5 L366.7,214.8 L367.8,215.3 L368.5,214.2 L369.3,213.8 L370.0,215.5 L370.7,214.8 L371.5,215.3 L372.3,215.5 L373.2,217.1 L374.1,215.8 L375.0,216.8 L376.0,215.7 L376.7,215.2 L377.3,214.7 L378.3,214.2 L379.1,214.7 L379.7,212.5 L380.8,211.7 L381.8,212.1 L382.4,209.7 L383.1,205.7 L384.4,200.6 L385.3,215.0 L386.5,250.0" fill="none" stroke="#f42828" stroke-width="0.75" stroke-linejoin="round" stroke-linecap="round"/>
<path d="M430.0,258.0 L431.5,246.1 L432.5,234.9 L433.4,225.8 L434.5,223.8 L436.0,226.8 L438.0,232.3 L441.0,239.3 L444.0,245.3 L446.5,248.8 L447.8,251.1 L448.8,246.3 L449.6,225.0 L450.2,214.3 L450.8,225.0 L451.3,250.0 L452.3,270.6" fill="none" stroke="#f42828" stroke-width="0.54" stroke-linejoin="round" stroke-linecap="round"/>
<path d="M298.0,230.4 L298.9,224.0 L299.6,222.0 L300.6,217.3 L301.5,217.8 L302.2,216.7 L303.2,213.3 L304.2,212.5 L305.1,212.7 L305.8,210.4 L306.7,211.4 L307.8,211.7 L308.6,210.0 L309.5,209.9 L310.2,210.6 L310.8,208.0 L311.5,207.5 L312.5,210.6 L313.4,209.7 L314.2,208.7 L315.0,210.5 L316.1,208.2 L316.9,208.7 L317.6,207.7 L318.4,210.7 L319.5,211.9 L320.4,210.0 L321.3,210.6 L322.2,212.0 L323.1,210.7 L324.2,208.9 L325.1,208.5 L326.0,209.7 L326.8,209.8 L327.6,207.9 L328.7,208.0 L329.7,207.6 L330.6,208.3 L331.5,208.2 L332.1,208.7 L332.8,207.3 L333.6,209.9 L334.5,209.4 L335.6,209.9 L336.6,209.8 L337.7,211.7 L338.4,210.3 L339.1,209.8 L340.0,209.9 L341.0,211.5 L341.9,211.6 L342.9,211.4 L343.9,212.5 L344.8,211.5 L345.6,214.2 L346.6,211.9 L347.2,212.6 L347.9,213.3 L348.6,211.7 L349.6,211.0 L350.3,212.0 L351.0,210.9 L351.9,210.5 L352.9,212.3 L353.9,211.7 L354.7,212.3 L355.7,211.9 L356.4,214.4 L357.2,212.8 L358.3,214.7 L359.2,212.4 L359.9,214.1 L360.5,212.9 L361.3,213.4 L362.1,213.1 L362.9,212.3 L364.0,211.1 L364.9,211.7 L365.7,212.8 L366.6,215.5 L367.2,215.3 L368.3,215.8 L369.2,214.9 L370.2,217.6 L371.1,216.9 L372.1,216.7 L372.9,216.3 L373.5,215.8 L374.6,216.1 L375.3,215.6 L376.0,216.0 L376.8,215.0 L377.6,213.3 L378.3,215.1 L379.2,214.5 L380.2,212.6 L380.9,214.3 L381.7,211.9 L382.7,208.5 L383.8,202.3 L384.4,202.2 L385.3,215.0 L386.5,250.0" fill="none" stroke="#f42828" stroke-width="0.75" stroke-linejoin="round" stroke-linecap="round"/>
<path d="M430.0,258.0 L431.5,247.2 L432.5,236.7 L433.4,228.2 L434.5,226.2 L436.0,229.2 L438.0,234.7 L441.0,241.7 L444.0,247.7 L446.5,251.2 L447.8,252.8 L448.8,247.3 L449.6,225.0 L450.2,210.7 L450.8,225.0 L451.3,250.0 L452.3,270.6" fill="none" stroke="#f42828" stroke-width="0.54" stroke-linejoin="round" stroke-linecap="round"/>
<path d="M298.0,229.7 L298.7,225.1 L299.6,223.3 L300.3,222.8 L301.2,219.2 L302.2,214.7 L302.9,216.1 L303.9,214.5 L304.6,215.5 L305.4,214.1 L306.1,212.3 L307.0,212.7 L307.9,211.7 L308.5,212.8 L309.6,211.5 L310.5,209.4 L311.2,210.3 L311.9,210.2 L312.7,210.8 L313.7,210.4 L314.6,210.8 L315.6,210.4 L316.6,211.8 L317.3,213.0 L318.0,210.3 L318.9,210.6 L320.0,210.9 L320.7,208.1 L321.3,209.5 L322.0,210.3 L322.7,210.6 L323.7,207.9 L324.7,210.3 L325.6,209.1 L326.6,209.2 L327.6,209.7 L328.2,209.4 L329.3,209.0 L330.1,211.5 L331.0,209.0 L331.7,209.1 L332.4,211.1 L333.2,211.1 L334.1,212.0 L335.1,211.2 L336.1,209.7 L336.9,210.4 L337.9,211.5 L338.8,211.8 L339.8,212.9 L340.9,212.4 L342.0,209.7 L342.6,211.0 L343.7,212.2 L344.3,211.4 L345.0,211.9 L345.9,213.3 L346.5,212.3 L347.5,210.6 L348.2,209.7 L348.8,211.8 L349.8,211.5 L350.5,210.7 L351.5,211.8 L352.3,210.3 L353.1,211.8 L353.9,214.6 L354.8,212.2 L355.6,211.0 L356.4,212.7 L357.2,212.3 L358.1,212.6 L359.1,215.0 L360.0,213.4 L360.8,214.8 L361.6,213.9 L362.7,214.4 L363.8,214.3 L364.6,213.0 L365.2,215.7 L366.3,215.0 L367.0,215.3 L367.8,214.9 L368.8,217.1 L369.7,217.3 L370.6,218.0 L371.5,218.1 L372.5,217.7 L373.4,217.5 L374.3,218.9 L375.1,218.2 L375.9,216.1 L377.0,216.7 L377.9,216.1 L378.6,216.8 L379.5,217.3 L380.5,213.8 L381.5,211.7 L382.2,210.0 L383.0,208.0 L383.8,202.7 L384.4,199.8 L385.3,215.0 L386.5,250.0" fill="none" stroke="#f42828" stroke-width="0.75" stroke-linejoin="round" stroke-linecap="round"/>
<path d="M430.0,258.0 L431.5,247.3 L432.5,236.9 L433.4,228.5 L434.5,226.5 L436.0,229.5 L438.0,235.0 L441.0,242.0 L444.0,248.0 L446.5,251.5 L447.8,253.0 L448.8,247.4 L449.6,225.0 L450.2,210.2 L450.8,225.0 L451.3,250.0 L452.3,270.6" fill="none" stroke="#f42828" stroke-width="0.54" stroke-linejoin="round" stroke-linecap="round"/>
<path d="M298.0,229.7 L299.0,225.0 L299.9,222.6 L300.7,220.1 L301.4,216.8 L302.3,214.1 L303.3,213.2 L304.0,213.1 L304.9,213.6 L305.7,214.8 L306.5,212.7 L307.3,212.6 L308.1,214.2 L308.9,212.9 L310.0,213.0 L310.9,211.6 L311.7,210.8 L312.5,210.3 L313.5,209.8 L314.4,211.0 L315.4,210.9 L316.5,210.8 L317.3,212.2 L318.3,210.1 L319.2,212.2 L320.2,209.7 L320.9,210.3 L321.5,212.2 L322.1,213.0 L323.0,211.7 L323.8,212.9 L324.8,211.4 L325.6,210.9 L326.7,211.0 L327.4,212.1 L328.3,211.0 L328.9,211.9 L329.9,211.2 L330.6,210.9 L331.4,210.9 L332.3,211.7 L333.0,212.2 L333.6,211.7 L334.4,211.3 L335.2,212.0 L336.1,213.5 L336.9,214.0 L338.0,212.7 L338.9,212.8 L339.5,211.2 L340.6,213.3 L341.5,213.4 L342.2,213.2 L342.9,212.6 L343.5,213.2 L344.6,212.8 L345.3,214.0 L346.0,212.9 L346.6,212.8 L347.3,213.1 L348.2,213.9 L349.0,212.8 L350.0,214.6 L350.6,214.8 L351.3,213.3 L352.1,214.7 L353.1,214.9 L353.7,216.4 L354.8,214.4 L355.6,215.5 L356.7,214.5 L357.7,215.0 L358.3,213.6 L359.4,214.4 L360.4,214.7 L361.5,215.7 L362.5,213.4 L363.3,214.6 L364.0,214.3 L364.6,214.1 L365.5,216.3 L366.3,215.5 L367.0,215.0 L367.8,215.8 L368.8,215.0 L369.8,217.0 L370.9,215.4 L371.5,216.2 L372.4,216.5 L373.2,217.2 L374.1,216.3 L374.9,215.8 L375.6,217.4 L376.6,217.4 L377.5,216.8 L378.4,216.7 L379.1,214.3 L379.9,214.1 L380.9,213.2 L381.7,213.0 L382.6,208.4 L383.5,204.4 L384.4,202.5 L385.3,215.0 L386.5,250.0" fill="none" stroke="#f42828" stroke-width="0.75" stroke-linejoin="round" stroke-linecap="round"/>
<path d="M430.0,258.0 L431.5,248.3 L432.5,238.4 L433.4,230.6 L434.5,228.6 L436.0,231.6 L438.0,237.1 L441.0,244.1 L444.0,250.1 L446.5,253.6 L447.8,254.4 L448.8,248.2 L449.6,225.0 L450.2,208.9 L450.8,225.0 L451.3,250.0 L452.3,270.6" fill="none" stroke="#f42828" stroke-width="0.54" stroke-linejoin="round" stroke-linecap="round"/>
<path d="M298.0,230.2 L299.0,227.6 L299.6,224.6 L300.4,221.4 L301.4,219.2 L302.2,216.9 L302.9,218.0 L304.0,216.4 L304.8,217.4 L305.8,214.7 L306.7,216.6 L307.3,215.4 L308.0,216.9 L309.0,215.7 L310.1,215.9 L311.1,215.5 L311.9,216.2 L312.9,215.6 L313.8,213.9 L314.9,214.5 L315.9,213.2 L316.7,213.0 L317.8,213.9 L318.6,214.6 L319.5,215.4 L320.3,213.5 L321.3,212.9 L322.4,211.9 L323.2,210.9 L324.2,212.2 L325.0,210.8 L325.8,212.9 L326.6,211.0 L327.5,212.1 L328.5,211.5 L329.1,211.2 L329.9,212.9 L330.6,214.4 L331.6,213.6 L332.7,214.9 L333.4,213.2 L334.3,211.9 L335.3,213.6 L336.1,211.3 L336.9,213.5 L337.7,215.6 L338.7,213.7 L339.5,214.1 L340.4,214.3 L341.3,216.1 L342.1,215.8 L342.8,215.6 L343.6,215.5 L344.7,216.0 L345.3,213.6 L346.4,214.5 L347.3,214.3 L348.1,216.3 L348.8,215.7 L349.7,217.2 L350.6,216.9 L351.4,217.7 L352.3,215.3 L353.2,217.6 L354.0,215.7 L355.0,215.6 L355.7,213.3 L356.5,215.9 L357.6,213.7 L358.6,213.5 L359.4,212.9 L360.2,215.2 L361.0,214.9 L361.8,215.4 L362.8,214.0 L363.8,215.5 L364.7,215.5 L365.5,217.2 L366.2,216.8 L367.2,217.7 L368.1,218.1 L368.8,215.5 L369.7,218.0 L370.5,217.1 L371.3,219.8 L372.2,219.7 L373.0,220.3 L373.8,220.2 L374.5,219.8 L375.4,219.1 L376.4,217.0 L377.1,217.1 L378.1,217.3 L378.9,216.2 L379.9,216.6 L380.6,215.4 L381.5,214.6 L382.4,211.2 L383.5,206.7 L384.4,202.5 L385.3,215.0 L386.5,250.0" fill="none" stroke="#f42828" stroke-width="0.75" stroke-linejoin="round" stroke-linecap="round"/>
<path d="M430.0,258.0 L431.5,248.4 L432.5,238.7 L433.4,230.9 L434.5,228.9 L436.0,231.9 L438.0,237.4 L441.0,244.4 L444.0,250.4 L446.5,253.9 L447.8,254.6 L448.8,248.4 L449.6,225.0 L450.2,209.3 L450.8,225.0 L451.3,250.0 L452.3,270.6" fill="none" stroke="#f42828" stroke-width="0.54" stroke-linejoin="round" stroke-linecap="round"/>
<path d="M298.0,229.3 L298.9,226.6 L299.6,223.0 L300.5,223.8 L301.3,220.3 L302.3,217.8 L303.3,216.7 L303.9,216.9 L304.9,215.7 L305.5,214.2 L306.3,213.4 L307.0,213.3 L308.0,214.8 L308.7,213.8 L309.5,213.4 L310.4,215.0 L311.2,214.7 L311.9,216.4 L312.9,215.3 L314.0,214.2 L314.7,214.5 L315.7,213.2 L316.4,212.7 L317.1,213.9 L317.9,213.6 L318.6,212.6 L319.5,214.3 L320.6,215.2 L321.6,212.5 L322.2,214.8 L323.1,213.0 L323.8,215.1 L324.5,211.7 L325.3,214.6 L326.1,211.6 L326.8,213.4 L327.9,215.3 L328.7,214.1 L329.4,215.0 L330.1,212.8 L331.1,215.8 L332.2,214.9 L333.0,215.9 L333.7,212.7 L334.6,211.9 L335.6,214.0 L336.2,215.2 L336.9,214.8 L337.9,214.8 L338.6,214.9 L339.4,213.2 L340.1,212.4 L340.9,213.8 L341.8,213.1 L342.4,212.5 L343.3,213.0 L344.3,214.3 L344.9,215.8 L345.6,216.1 L346.3,215.4 L347.3,215.7 L347.9,215.4 L348.9,212.0 L349.6,213.9 L350.6,216.3 L351.6,214.4 L352.2,214.9 L353.3,215.6 L354.3,215.7 L355.0,217.4 L356.0,216.3 L356.9,216.2 L357.8,217.4 L358.5,215.8 L359.2,214.3 L360.2,215.9 L361.2,214.3 L362.1,215.0 L362.8,216.6 L363.5,216.6 L364.6,215.8 L365.3,217.5 L366.0,218.6 L367.0,215.5 L367.7,217.6 L368.5,217.3 L369.4,219.3 L370.4,220.0 L371.4,218.0 L372.4,219.8 L373.4,220.6 L374.2,219.1 L375.0,219.0 L375.6,220.4 L376.5,220.0 L377.6,220.0 L378.3,218.0 L378.9,218.5 L380.0,216.4 L380.9,215.2 L381.8,213.5 L382.6,209.6 L383.4,205.4 L384.4,202.1 L385.3,215.0 L386.5,250.0" fill="none" stroke="#f42828" stroke-width="0.75" stroke-linejoin="round" stroke-linecap="round"/>
<path d="M430.0,258.0 L431.5,249.4 L432.5,240.4 L433.4,233.2 L434.5,231.2 L436.0,234.2 L438.0,239.7 L441.0,246.7 L444.0,252.7 L446.5,256.2 L447.8,256.2 L448.8,249.3 L449.6,225.0 L450.2,212.8 L450.8,225.0 L451.3,250.0 L452.3,270.6" fill="none" stroke="#f42828" stroke-width="0.54" stroke-linejoin="round" stroke-linecap="round"/>
<path d="M298.0,232.5 L298.8,229.1 L299.9,223.5 L300.6,222.1 L301.4,223.6 L302.0,221.1 L303.0,221.0 L303.7,217.4 L304.7,216.4 L305.7,216.7 L306.7,216.8 L307.4,213.7 L308.0,213.6 L308.7,215.9 L309.6,214.6 L310.3,212.4 L311.1,213.3 L312.1,213.7 L312.9,212.2 L313.9,214.0 L314.9,212.9 L315.5,214.0 L316.2,213.7 L317.1,211.8 L317.7,213.8 L318.7,213.5 L319.3,214.0 L320.0,213.9 L320.9,214.2 L321.7,213.3 L322.3,213.6 L323.1,213.5 L323.8,211.5 L324.6,212.7 L325.4,212.3 L326.3,213.8 L326.9,213.3 L327.8,213.7 L328.4,213.8 L329.1,213.5 L329.8,214.1 L330.8,213.2 L331.6,215.2 L332.6,217.1 L333.2,216.9 L334.0,216.7 L334.7,213.8 L335.7,215.1 L336.4,214.0 L337.1,214.6 L337.7,216.1 L338.4,215.2 L339.3,213.7 L340.3,213.4 L341.1,215.1 L341.8,216.8 L342.7,216.1 L343.8,214.8 L344.7,215.5 L345.4,215.2 L346.1,215.4 L347.0,215.8 L347.9,216.2 L348.6,215.1 L349.7,216.7 L350.6,215.8 L351.3,216.2 L352.0,217.0 L352.8,217.4 L353.4,215.7 L354.4,215.8 L355.2,215.9 L356.1,214.5 L356.8,215.6 L357.5,217.0 L358.5,215.2 L359.2,216.3 L360.0,217.9 L361.0,217.8 L362.1,216.9 L363.2,216.1 L363.9,218.5 L364.9,217.4 L366.0,218.6 L366.8,217.0 L367.7,219.0 L368.8,218.4 L369.4,220.2 L370.1,219.6 L370.8,220.0 L371.8,219.9 L372.7,219.8 L373.7,218.7 L374.6,219.8 L375.3,220.9 L376.0,220.8 L376.7,220.3 L377.8,218.7 L378.6,218.6 L379.2,216.1 L380.0,214.3 L380.8,213.0 L381.7,213.3 L382.4,210.5 L383.1,206.3 L384.1,200.6 L384.4,202.2 L385.3,215.0 L386.5,250.0" fill="none" stroke="#f42828" stroke-width="0.75" stroke-linejoin="round" stroke-linecap="round"/>
<path d="M430.0,258.0 L431.5,249.5 L432.5,240.6 L433.4,233.5 L434.5,231.5 L436.0,234.5 L438.0,240.0 L441.0,247.0 L444.0,253.0 L446.5,256.5 L447.8,256.4 L448.8,249.4 L449.6,225.0 L450.2,213.2 L450.8,225.0 L451.3,250.0 L452.3,270.6" fill="none" stroke="#f42828" stroke-width="0.54" stroke-linejoin="round" stroke-linecap="round"/>
<path d="M298.0,232.4 L298.9,230.1 L299.6,226.1 L300.3,225.9 L301.4,224.4 L302.1,221.5 L303.0,218.8 L303.6,219.2 L304.2,216.9 L305.2,216.7 L305.8,219.7 L306.5,217.6 L307.3,216.9 L308.0,214.5 L308.7,214.9 L309.6,214.8 L310.6,213.7 L311.3,215.0 L311.9,214.5 L312.7,213.9 L313.7,214.3 L314.6,215.2 L315.6,214.6 L316.3,215.8 L316.9,215.0 L317.6,214.4 L318.3,214.9 L319.3,214.3 L320.0,213.8 L320.9,215.1 L321.6,214.1 L322.4,212.3 L323.3,214.9 L324.4,214.6 L325.2,214.4 L326.1,213.4 L326.9,215.1 L328.0,213.2 L328.6,214.4 L329.4,215.1 L330.4,212.9 L331.2,213.6 L332.1,213.4 L333.0,215.4 L333.8,215.9 L334.8,214.1 L335.7,215.0 L336.3,218.0 L336.9,216.9 L337.7,216.1 L338.7,214.3 L339.5,215.9 L340.1,215.1 L340.8,212.6 L341.5,215.3 L342.1,214.7 L342.9,213.0 L343.7,214.6 L344.4,217.5 L345.5,217.7 L346.4,215.9 L347.3,215.7 L348.0,216.8 L349.0,216.7 L349.7,218.7 L350.4,217.7 L351.1,218.1 L351.8,219.0 L352.8,216.8 L353.8,219.4 L354.9,218.8 L355.9,216.9 L356.7,216.8 L357.3,217.9 L358.1,218.3 L359.1,218.1 L360.1,218.9 L361.1,218.2 L362.0,219.6 L362.7,218.2 L363.7,219.4 L364.7,218.2 L365.8,220.2 L366.7,220.0 L367.6,218.6 L368.6,220.8 L369.3,218.9 L369.9,218.1 L370.9,218.0 L371.6,219.0 L372.4,220.6 L373.5,220.1 L374.5,221.0 L375.5,220.5 L376.4,218.7 L377.4,218.2 L378.2,218.9 L378.9,217.5 L380.0,215.3 L381.1,214.4 L381.9,212.7 L382.5,211.3 L383.5,205.2 L384.4,202.8 L385.3,215.0 L386.5,250.0" fill="none" stroke="#f42828" stroke-width="0.75" stroke-linejoin="round" stroke-linecap="round"/>
<path d="M430.0,258.0 L431.5,249.7 L432.5,240.8 L433.4,233.8 L434.5,231.8 L436.0,234.8 L438.0,240.3 L441.0,247.3 L444.0,253.3 L446.5,256.8 L447.8,256.6 L448.8,249.5 L449.6,225.0 L450.2,213.7 L450.8,225.0 L451.3,250.0 L452.3,270.6" fill="none" stroke="#f42828" stroke-width="0.54" stroke-linejoin="round" stroke-linecap="round"/>
<path d="M298.0,232.8 L299.1,227.1 L300.1,224.8 L300.8,224.4 L301.5,222.5 L302.4,221.6 L303.5,220.5 L304.2,220.3 L305.2,219.6 L306.3,216.9 L307.1,220.0 L308.2,219.6 L309.1,217.4 L310.1,216.8 L310.8,215.6 L311.7,214.5 L312.3,215.8 L313.2,214.0 L314.1,214.4 L315.1,213.9 L316.1,215.2 L317.1,215.2 L318.1,214.7 L318.9,211.6 L319.9,212.7 L320.8,215.9 L321.5,214.6 L322.2,214.4 L323.2,213.5 L323.9,212.9 L324.6,213.3 L325.5,215.7 L326.3,215.7 L327.0,215.0 L327.7,215.6 L328.8,214.6 L329.6,215.4 L330.4,215.3 L331.3,214.5 L332.2,214.0 L333.3,213.7 L334.0,215.0 L335.0,214.9 L335.8,217.7 L336.7,216.9 L337.8,217.1 L338.4,217.5 L339.4,214.9 L340.3,215.4 L341.3,215.8 L342.4,216.3 L343.2,216.6 L344.2,215.6 L345.0,217.1 L345.8,215.3 L346.8,215.9 L347.4,213.8 L348.4,214.0 L349.1,215.4 L350.0,217.6 L350.9,216.6 L352.0,216.8 L352.9,218.3 L353.6,220.1 L354.5,218.9 L355.1,217.7 L356.1,218.2 L356.8,218.8 L357.7,219.1 L358.8,219.0 L359.5,220.0 L360.6,218.3 L361.3,218.1 L362.3,217.9 L363.2,217.1 L364.2,217.7 L365.2,217.9 L366.0,220.5 L367.1,218.8 L367.8,220.3 L368.4,221.2 L369.2,220.5 L370.0,220.4 L371.0,221.5 L372.1,221.5 L372.8,220.3 L373.9,222.4 L374.9,223.0 L375.7,221.6 L376.6,221.9 L377.4,221.0 L378.1,220.6 L378.7,219.7 L379.8,217.5 L380.9,215.9 L381.5,212.7 L382.5,211.1 L383.3,207.6 L383.9,203.0 L384.4,203.0 L385.3,215.0 L386.5,250.0" fill="none" stroke="#f42828" stroke-width="0.75" stroke-linejoin="round" stroke-linecap="round"/>
<path d="M430.0,258.0 L431.5,247.5 L432.5,237.1 L433.4,228.8 L434.5,226.8 L436.0,229.8 L438.0,235.3 L441.0,242.3 L444.0,248.3 L446.5,251.8 L447.8,253.2 L448.8,247.5 L449.6,225.0 L450.2,209.8 L450.8,225.0 L451.3,250.0 L452.3,270.6" fill="none" stroke="#f42828" stroke-width="0.54" stroke-linejoin="round" stroke-linecap="round"/>
<path d="M298.0,231.9 L299.1,230.4 L299.9,227.6 L300.9,225.8 L301.7,224.0 L302.3,222.7 L303.3,223.1 L304.1,220.4 L305.0,219.4 L306.0,218.0 L306.7,219.9 L307.3,218.4 L308.3,218.3 L309.3,216.5 L310.3,215.5 L311.2,215.0 L312.3,216.7 L313.0,216.2 L314.0,218.5 L315.0,217.5 L316.0,216.0 L317.1,218.3 L318.1,216.8 L319.1,219.1 L319.8,218.2 L320.6,216.0 L321.4,216.3 L322.2,217.8 L323.1,217.3 L323.9,218.8 L324.5,218.9 L325.3,217.0 L325.9,215.7 L326.7,217.3 L327.8,217.2 L328.8,217.9 L329.9,217.7 L330.8,218.8 L331.5,217.3 L332.1,217.6 L333.0,218.2 L333.9,218.9 L335.0,218.7 L335.6,216.7 L336.7,216.8 L337.3,217.8 L338.2,216.3 L338.9,217.9 L339.5,217.5 L340.6,217.7 L341.6,218.6 L342.3,220.2 L342.9,218.7 L343.6,219.3 L344.7,221.4 L345.6,219.2 L346.6,219.6 L347.6,218.2 L348.3,218.6 L349.3,217.6 L350.2,217.8 L351.0,215.8 L351.9,217.5 L352.6,217.3 L353.2,217.8 L354.0,218.1 L354.9,219.5 L355.8,220.8 L356.5,218.2 L357.2,218.9 L358.0,218.4 L359.1,217.1 L359.9,219.2 L360.8,217.3 L361.4,218.8 L362.4,217.9 L363.0,217.6 L363.6,219.5 L364.5,219.0 L365.3,218.0 L366.4,217.9 L367.2,217.4 L368.1,219.4 L368.8,219.7 L369.6,220.8 L370.3,220.5 L371.4,220.2 L372.3,220.6 L373.2,222.4 L374.0,223.3 L374.8,221.7 L375.5,222.4 L376.3,220.8 L377.3,220.5 L378.1,220.2 L379.0,219.5 L379.8,217.0 L380.9,214.0 L381.5,215.3 L382.5,212.0 L383.4,206.2 L384.4,202.3 L385.3,215.0 L386.5,250.0" fill="none" stroke="#f42828" stroke-width="0.75" stroke-linejoin="round" stroke-linecap="round"/>
<path d="M430.0,258.0 L431.5,246.1 L432.5,234.8 L433.4,225.6 L434.5,223.6 L436.0,226.6 L438.0,232.1 L441.0,239.1 L444.0,245.1 L446.5,248.6 L447.8,251.0 L448.8,246.2 L449.6,225.0 L450.2,214.6 L450.8,225.0 L451.3,250.0 L452.3,270.6" fill="none" stroke="#f42828" stroke-width="0.54" stroke-linejoin="round" stroke-linecap="round"/>
<path d="M298.0,232.0 L299.0,228.9 L300.1,228.1 L301.0,226.7 L302.1,223.7 L302.9,223.4 L303.7,223.2 L304.4,221.6 L305.3,220.9 L306.0,219.3 L306.9,220.8 L307.8,220.3 L308.7,217.9 L309.5,219.7 L310.3,218.3 L311.1,217.8 L311.9,219.4 L312.6,218.7 L313.5,218.6 L314.5,216.3 L315.3,217.7 L316.1,218.3 L317.1,216.0 L317.8,218.0 L318.6,216.4 L319.5,218.7 L320.5,218.3 L321.3,219.2 L322.0,216.4 L323.1,217.5 L324.1,218.7 L324.8,219.0 L325.4,219.9 L326.2,219.2 L326.9,218.9 L327.5,219.4 L328.2,219.3 L328.9,218.2 L329.8,216.4 L330.9,217.6 L331.7,218.0 L332.4,218.4 L333.3,217.0 L334.0,217.4 L334.8,217.6 L335.8,219.1 L336.6,218.0 L337.2,220.0 L337.9,219.6 L339.0,218.2 L339.7,219.6 L340.7,218.7 L341.7,217.4 L342.7,219.6 L343.4,217.5 L344.0,216.3 L344.8,217.7 L345.5,218.5 L346.6,217.9 L347.4,218.9 L348.1,218.8 L348.9,219.7 L349.7,219.9 L350.4,218.4 L351.3,217.4 L352.3,217.6 L353.4,217.7 L354.1,219.1 L354.9,217.9 L355.9,219.8 L356.7,218.3 L357.4,221.2 L358.3,220.5 L359.0,220.3 L360.0,219.9 L360.7,219.0 L361.5,219.8 L362.2,220.1 L362.8,220.1 L363.7,220.8 L364.6,219.5 L365.6,220.8 L366.4,221.5 L367.4,219.7 L368.3,221.4 L369.4,220.4 L370.4,221.7 L371.3,221.3 L372.1,221.7 L373.0,221.2 L374.0,220.6 L374.8,220.2 L375.7,219.6 L376.4,221.2 L377.5,221.5 L378.3,219.3 L379.4,219.6 L380.1,218.2 L381.0,216.4 L381.6,214.0 L382.6,209.5 L383.7,205.0 L384.4,199.0 L385.3,215.0 L386.5,250.0" fill="none" stroke="#f42828" stroke-width="0.75" stroke-linejoin="round" stroke-linecap="round"/>
<path d="M430.0,258.0 L431.5,248.3 L432.5,238.5 L433.4,230.7 L434.5,228.7 L436.0,231.7 L438.0,237.2 L441.0,244.2 L444.0,250.2 L446.5,253.7 L447.8,254.5 L448.8,248.3 L449.6,225.0 L450.2,209.1 L450.8,225.0 L451.3,250.0 L452.3,270.6" fill="none" stroke="#f42828" stroke-width="0.54" stroke-linejoin="round" stroke-linecap="round"/>
<path d="M298.0,233.3 L298.7,232.0 L299.5,228.0 L300.1,228.0 L301.1,224.4 L301.9,224.9 L302.7,223.0 L303.8,223.0 L304.8,221.9 L305.6,220.2 L306.3,221.1 L307.1,220.2 L307.9,220.2 L308.6,220.2 L309.5,219.0 L310.5,220.2 L311.5,220.2 L312.3,220.7 L313.0,218.1 L313.9,216.8 L314.9,216.4 L315.6,216.9 L316.4,217.8 L317.3,217.5 L318.4,216.7 L319.3,218.3 L320.0,218.3 L321.0,218.4 L321.9,217.9 L322.6,218.9 L323.2,219.2 L323.9,220.4 L324.5,217.5 L325.2,217.6 L326.0,217.3 L326.8,218.9 L327.4,216.4 L328.2,217.5 L329.2,217.7 L329.8,219.0 L330.9,218.4 L331.5,220.0 L332.3,220.4 L333.3,218.6 L334.1,220.1 L335.1,220.2 L335.9,219.7 L337.0,218.2 L338.0,218.5 L338.9,221.2 L339.8,218.7 L340.7,219.1 L341.6,220.8 L342.3,219.6 L343.2,218.7 L344.1,220.1 L344.8,220.5 L345.5,219.1 L346.6,219.8 L347.4,218.4 L348.2,217.8 L349.1,220.0 L349.9,218.2 L350.9,219.2 L352.0,219.6 L352.7,217.1 L353.5,218.8 L354.3,219.8 L355.0,220.3 L356.1,220.7 L357.0,219.8 L357.8,221.4 L358.7,221.0 L359.7,220.7 L360.7,219.9 L361.4,219.0 L362.0,218.8 L362.7,219.7 L363.4,220.3 L364.1,221.2 L364.7,219.7 L365.8,221.2 L366.8,219.2 L367.8,221.6 L368.5,220.4 L369.3,221.4 L370.1,221.5 L370.7,221.9 L371.4,221.5 L372.3,221.7 L373.1,222.3 L374.2,225.1 L375.2,224.0 L376.1,223.5 L377.1,222.1 L377.7,220.9 L378.4,220.2 L379.3,218.8 L380.2,217.3 L381.1,214.3 L381.8,214.0 L382.6,211.2 L383.6,205.2 L384.4,200.2 L385.3,215.0 L386.5,250.0" fill="none" stroke="#f42828" stroke-width="0.75" stroke-linejoin="round" stroke-linecap="round"/>
<path d="M430.0,258.0 L431.5,249.5 L432.5,240.5 L433.4,233.4 L434.5,231.4 L436.0,234.4 L438.0,239.9 L441.0,246.9 L444.0,252.9 L446.5,256.4 L447.8,256.3 L448.8,249.4 L449.6,225.0 L450.2,213.1 L450.8,225.0 L451.3,250.0 L452.3,270.6" fill="none" stroke="#f42828" stroke-width="0.54" stroke-linejoin="round" stroke-linecap="round"/>
<path d="M298.0,234.7 L299.1,231.5 L299.9,227.9 L300.9,228.6 L301.9,225.8 L302.9,225.2 L303.7,226.5 L304.7,223.7 L305.4,223.0 L306.1,221.0 L307.1,221.9 L307.9,221.0 L308.6,219.6 L309.4,219.0 L310.5,218.4 L311.5,218.2 L312.1,218.5 L313.0,217.5 L313.8,219.2 L314.9,219.4 L315.9,219.6 L316.9,219.7 L317.9,218.7 L318.6,217.6 L319.6,219.5 L320.5,220.3 L321.5,218.8 L322.6,217.9 L323.3,220.8 L324.3,221.2 L325.3,219.7 L326.2,218.3 L327.2,219.4 L328.1,220.0 L328.8,220.3 L329.8,221.6 L330.8,220.8 L331.9,219.5 L332.7,219.3 L333.6,220.3 L334.6,221.4 L335.3,220.4 L336.1,220.8 L336.9,222.4 L337.6,219.1 L338.2,219.2 L339.2,221.4 L340.2,220.7 L340.8,219.5 L341.8,219.4 L342.5,219.3 L343.2,221.2 L344.1,219.9 L345.1,221.8 L345.8,222.5 L346.5,223.8 L347.5,222.3 L348.3,222.2 L349.2,221.2 L350.3,222.5 L351.2,221.2 L352.0,223.1 L353.1,222.4 L354.0,222.9 L355.1,220.6 L356.1,221.1 L356.7,221.7 L357.5,220.0 L358.4,221.3 L359.2,222.6 L360.2,221.6 L361.0,221.5 L362.0,221.5 L363.0,220.9 L363.7,223.4 L364.4,222.5 L365.3,222.2 L366.1,221.6 L366.8,223.2 L367.5,223.4 L368.2,224.7 L368.9,225.3 L369.6,224.5 L370.6,223.6 L371.6,224.1 L372.7,224.0 L373.7,223.4 L374.7,223.9 L375.4,223.2 L376.1,224.5 L376.8,223.6 L377.5,223.4 L378.2,220.5 L379.2,220.7 L379.9,217.5 L380.9,214.4 L381.9,213.9 L382.5,211.2 L383.6,205.5 L384.2,199.4 L384.4,201.6 L385.3,215.0 L386.5,250.0" fill="none" stroke="#f42828" stroke-width="0.75" stroke-linejoin="round" stroke-linecap="round"/>
<path d="M430.0,258.0 L431.5,247.3 L432.5,236.8 L433.4,228.4 L434.5,226.4 L436.0,229.4 L438.0,234.9 L441.0,241.9 L444.0,247.9 L446.5,251.4 L447.8,252.9 L448.8,247.4 L449.6,225.0 L450.2,210.4 L450.8,225.0 L451.3,250.0 L452.3,270.6" fill="none" stroke="#f42828" stroke-width="0.54" stroke-linejoin="round" stroke-linecap="round"/>
<path d="M386.5,250.0 L387.6,262.0 L389.5,266.8 L391.5,269.4 L393.5,270.4 L395.7,271.4 L397.5,273.4 L399.5,277.5 L401.5,282.3 L403.5,286.8 L406.0,290.8 L409.0,293.7 L412.2,294.9 L415.0,294.2 L418.0,291.4 L421.0,287.0 L424.0,281.0 L426.6,273.0 L428.5,265.5 L430.0,258.0" fill="none" stroke="#f42828" stroke-width="1.15" stroke-linejoin="round" stroke-linecap="round"/>
<path d="M451.3,250.0 L452.3,270.6 L453.3,291.2 L454.3,301.0 L455.4,307.6 L456.8,313.0 L458.5,318.0 L460.5,321.6 L463.0,323.6 L466.0,324.4 L470.0,324.2 L474.0,323.8 L477.0,323.6 L480.0,324.2 L483.0,326.0 L486.0,328.3 L490.0,329.5 L495.0,330.0 L500.0,329.8 L503.0,329.2 L505.8,328.6" fill="none" stroke="#f42828" stroke-width="1.15" stroke-linejoin="round" stroke-linecap="round"/>
<path d="M451.8,250.3 L452.8,270.9 L453.8,291.5 L454.8,301.3 L455.9,307.9 L457.3,313.3 L459.0,318.3 L461.0,321.9 L463.5,323.9 L466.5,324.7" fill="none" stroke="#f42828" stroke-width="0.6" stroke-linejoin="round" stroke-linecap="round"/>
<line x1="297.8" y1="181.5" x2="297.8" y2="349.2" stroke="#111" stroke-width="1"/>
<line x1="297.3" y1="349.2" x2="506.3" y2="349.2" stroke="#111" stroke-width="1"/>
<line x1="505.8" y1="181.4" x2="505.8" y2="349.2" stroke="#111" stroke-width="1"/>
<line x1="294.8" y1="349.2" x2="297.8" y2="349.2" stroke="#111" stroke-width="0.9"/>
<line x1="296.0" y1="338.0" x2="297.8" y2="338.0" stroke="#111" stroke-width="0.9"/>
<line x1="294.8" y1="326.9" x2="297.8" y2="326.9" stroke="#111" stroke-width="0.9"/>
<line x1="296.0" y1="315.7" x2="297.8" y2="315.7" stroke="#111" stroke-width="0.9"/>
<line x1="294.8" y1="304.5" x2="297.8" y2="304.5" stroke="#111" stroke-width="0.9"/>
<line x1="296.0" y1="293.4" x2="297.8" y2="293.4" stroke="#111" stroke-width="0.9"/>
<line x1="294.8" y1="282.2" x2="297.8" y2="282.2" stroke="#111" stroke-width="0.9"/>
<line x1="296.0" y1="271.0" x2="297.8" y2="271.0" stroke="#111" stroke-width="0.9"/>
<line x1="294.8" y1="259.9" x2="297.8" y2="259.9" stroke="#111" stroke-width="0.9"/>
<line x1="296.0" y1="248.7" x2="297.8" y2="248.7" stroke="#111" stroke-width="0.9"/>
<line x1="294.8" y1="237.6" x2="297.8" y2="237.6" stroke="#111" stroke-width="0.9"/>
<line x1="296.0" y1="226.4" x2="297.8" y2="226.4" stroke="#111" stroke-width="0.9"/>
<line x1="294.8" y1="215.2" x2="297.8" y2="215.2" stroke="#111" stroke-width="0.9"/>
<line x1="296.0" y1="204.1" x2="297.8" y2="204.1" stroke="#111" stroke-width="0.9"/>
<line x1="294.8" y1="192.9" x2="297.8" y2="192.9" stroke="#111" stroke-width="0.9"/>
<text x="292.8" y="353.8" font-size="13.6" font-weight="bold" text-anchor="end" fill="#000" stroke="#000" stroke-width="0.3">0.0</text>
<text x="292.8" y="331.47" font-size="13.6" font-weight="bold" text-anchor="end" fill="#000" stroke="#000" stroke-width="0.3">0.5</text>
<text x="292.8" y="309.14" font-size="13.6" font-weight="bold" text-anchor="end" fill="#000" stroke="#000" stroke-width="0.3">1.0</text>
<text x="292.8" y="286.81" font-size="13.6" font-weight="bold" text-anchor="end" fill="#000" stroke="#000" stroke-width="0.3">1.5</text>
<text x="292.8" y="264.48" font-size="13.6" font-weight="bold" text-anchor="end" fill="#000" stroke="#000" stroke-width="0.3">2.0</text>
<text x="292.8" y="242.15" font-size="13.6" font-weight="bold" text-anchor="end" fill="#000" stroke="#000" stroke-width="0.3">2.5</text>
<text x="292.8" y="219.82" font-size="13.6" font-weight="bold" text-anchor="end" fill="#000" stroke="#000" stroke-width="0.3">3.0</text>
<text x="292.8" y="197.48999999999998" font-size="13.6" font-weight="bold" text-anchor="end" fill="#000" stroke="#000" stroke-width="0.3">3.5</text>
<line x1="297.8" y1="349.2" x2="297.8" y2="352.2" stroke="#111" stroke-width="0.9"/>
<line x1="315.1" y1="349.2" x2="315.1" y2="351.0" stroke="#111" stroke-width="0.9"/>
<line x1="332.5" y1="349.2" x2="332.5" y2="352.2" stroke="#111" stroke-width="0.9"/>
<line x1="349.8" y1="349.2" x2="349.8" y2="351.0" stroke="#111" stroke-width="0.9"/>
<line x1="367.1" y1="349.2" x2="367.1" y2="352.2" stroke="#111" stroke-width="0.9"/>
<line x1="384.5" y1="349.2" x2="384.5" y2="351.0" stroke="#111" stroke-width="0.9"/>
<line x1="401.8" y1="349.2" x2="401.8" y2="352.2" stroke="#111" stroke-width="0.9"/>
<line x1="419.1" y1="349.2" x2="419.1" y2="351.0" stroke="#111" stroke-width="0.9"/>
<line x1="436.5" y1="349.2" x2="436.5" y2="352.2" stroke="#111" stroke-width="0.9"/>
<line x1="453.8" y1="349.2" x2="453.8" y2="351.0" stroke="#111" stroke-width="0.9"/>
<line x1="471.1" y1="349.2" x2="471.1" y2="352.2" stroke="#111" stroke-width="0.9"/>
<line x1="488.5" y1="349.2" x2="488.5" y2="351.0" stroke="#111" stroke-width="0.9"/>
<line x1="505.8" y1="349.2" x2="505.8" y2="352.2" stroke="#111" stroke-width="0.9"/>
<text x="297.8" y="365.3" font-size="13.6" font-weight="bold" text-anchor="middle" fill="#000" stroke="#000" stroke-width="0.3">2500</text>
<text x="332.4666666666667" y="365.3" font-size="13.6" font-weight="bold" text-anchor="middle" fill="#000" stroke="#000" stroke-width="0.3">2250</text>
<text x="367.1333333333333" y="365.3" font-size="13.6" font-weight="bold" text-anchor="middle" fill="#000" stroke="#000" stroke-width="0.3">2000</text>
<text x="401.8" y="365.3" font-size="13.6" font-weight="bold" text-anchor="middle" fill="#000" stroke="#000" stroke-width="0.3">1750</text>
<text x="436.4666666666667" y="365.3" font-size="13.6" font-weight="bold" text-anchor="middle" fill="#000" stroke="#000" stroke-width="0.3">1500</text>
<text x="471.1333333333333" y="365.3" font-size="13.6" font-weight="bold" text-anchor="middle" fill="#000" stroke="#000" stroke-width="0.3">1250</text>
<text x="504.8" y="365.3" font-size="13.6" font-weight="bold" text-anchor="middle" fill="#000" stroke="#000" stroke-width="0.3">1000</text>
<line x1="505.8" y1="348.8" x2="507.40000000000003" y2="348.8" stroke="#111" stroke-width="0.9"/>
<line x1="505.8" y1="336.9" x2="508.6" y2="336.9" stroke="#111" stroke-width="0.9"/>
<line x1="505.8" y1="325.0" x2="507.40000000000003" y2="325.0" stroke="#111" stroke-width="0.9"/>
<line x1="505.8" y1="313.0" x2="508.6" y2="313.0" stroke="#111" stroke-width="0.9"/>
<line x1="505.8" y1="301.1" x2="507.40000000000003" y2="301.1" stroke="#111" stroke-width="0.9"/>
<line x1="505.8" y1="289.2" x2="508.6" y2="289.2" stroke="#111" stroke-width="0.9"/>
<line x1="505.8" y1="277.3" x2="507.40000000000003" y2="277.3" stroke="#111" stroke-width="0.9"/>
<line x1="505.8" y1="265.3" x2="508.6" y2="265.3" stroke="#111" stroke-width="0.9"/>
<line x1="505.8" y1="253.4" x2="507.40000000000003" y2="253.4" stroke="#111" stroke-width="0.9"/>
<line x1="505.8" y1="241.5" x2="508.6" y2="241.5" stroke="#111" stroke-width="0.9"/>
<line x1="505.8" y1="229.6" x2="507.40000000000003" y2="229.6" stroke="#111" stroke-width="0.9"/>
<line x1="505.8" y1="217.6" x2="508.6" y2="217.6" stroke="#111" stroke-width="0.9"/>
<line x1="505.8" y1="205.7" x2="507.40000000000003" y2="205.7" stroke="#111" stroke-width="0.9"/>
<line x1="505.8" y1="193.8" x2="508.6" y2="193.8" stroke="#111" stroke-width="0.9"/>
<line x1="505.8" y1="181.9" x2="507.40000000000003" y2="181.9" stroke="#111" stroke-width="0.9"/>
<text x="510.8" y="341.2" font-size="13.4" font-weight="bold" text-anchor="start" fill="#000" stroke="#000" stroke-width="0.3">0</text>
<text x="510.8" y="317.34999999999997" font-size="13.4" font-weight="bold" text-anchor="start" fill="#000" stroke="#000" stroke-width="0.3">1</text>
<text x="510.8" y="293.5" font-size="13.4" font-weight="bold" text-anchor="start" fill="#000" stroke="#000" stroke-width="0.3">2</text>
<text x="510.8" y="269.65" font-size="13.4" font-weight="bold" text-anchor="start" fill="#000" stroke="#000" stroke-width="0.3">3</text>
<text x="510.8" y="245.79999999999998" font-size="13.4" font-weight="bold" text-anchor="start" fill="#000" stroke="#000" stroke-width="0.3">4</text>
<text x="510.8" y="221.95" font-size="13.4" font-weight="bold" text-anchor="start" fill="#000" stroke="#000" stroke-width="0.3">5</text>
<text x="510.8" y="198.09999999999997" font-size="13.4" font-weight="bold" text-anchor="start" fill="#000" stroke="#000" stroke-width="0.3">6</text>
<text x="402" y="380.5" font-size="13.6" font-weight="bold" text-anchor="middle" fill="#000" stroke="#000" stroke-width="0.3">Wavenumber (nm)</text>
<text x="271" y="265.65" font-size="12.5" font-weight="bold" text-anchor="middle" fill="#000" stroke="#000" stroke-width="0.3" transform="rotate(-90 271 265.65)">VIPpred</text>
<text x="532.3" y="265.5" font-size="12.8" font-weight="bold" text-anchor="middle" fill="#000" stroke="#000" stroke-width="0.3" transform="rotate(-90 532.3 265.5)">Absorbance</text>
<text x="302.7" y="191.8" font-size="15.7" font-weight="bold" text-anchor="start" fill="#000" stroke="#000" stroke-width="0.3">(D)</text>
<rect x="455.2" y="184" width="18.5" height="8.7" fill="#02dc04"/>
<line x1="456.3" y1="199.4" x2="474.6" y2="199.4" stroke="#3a3a3a" stroke-width="1"/>
<line x1="456.3" y1="209.6" x2="474.6" y2="209.6" stroke="#f02020" stroke-width="1"/>
<text x="476.1" y="190.8" font-size="7.95" font-weight="bold" text-anchor="start" fill="#000" stroke="#000" stroke-width="0.3">VIPpred</text>
<text x="476.8" y="201.9" font-size="8.1" font-weight="bold" text-anchor="start" fill="#000" stroke="#000" stroke-width="0.3">N2</text>
<text x="476.8" y="212.3" font-size="8.1" font-weight="bold" text-anchor="start" fill="#000" stroke="#000" stroke-width="0.3">N4</text>
</svg>
</body></html>
